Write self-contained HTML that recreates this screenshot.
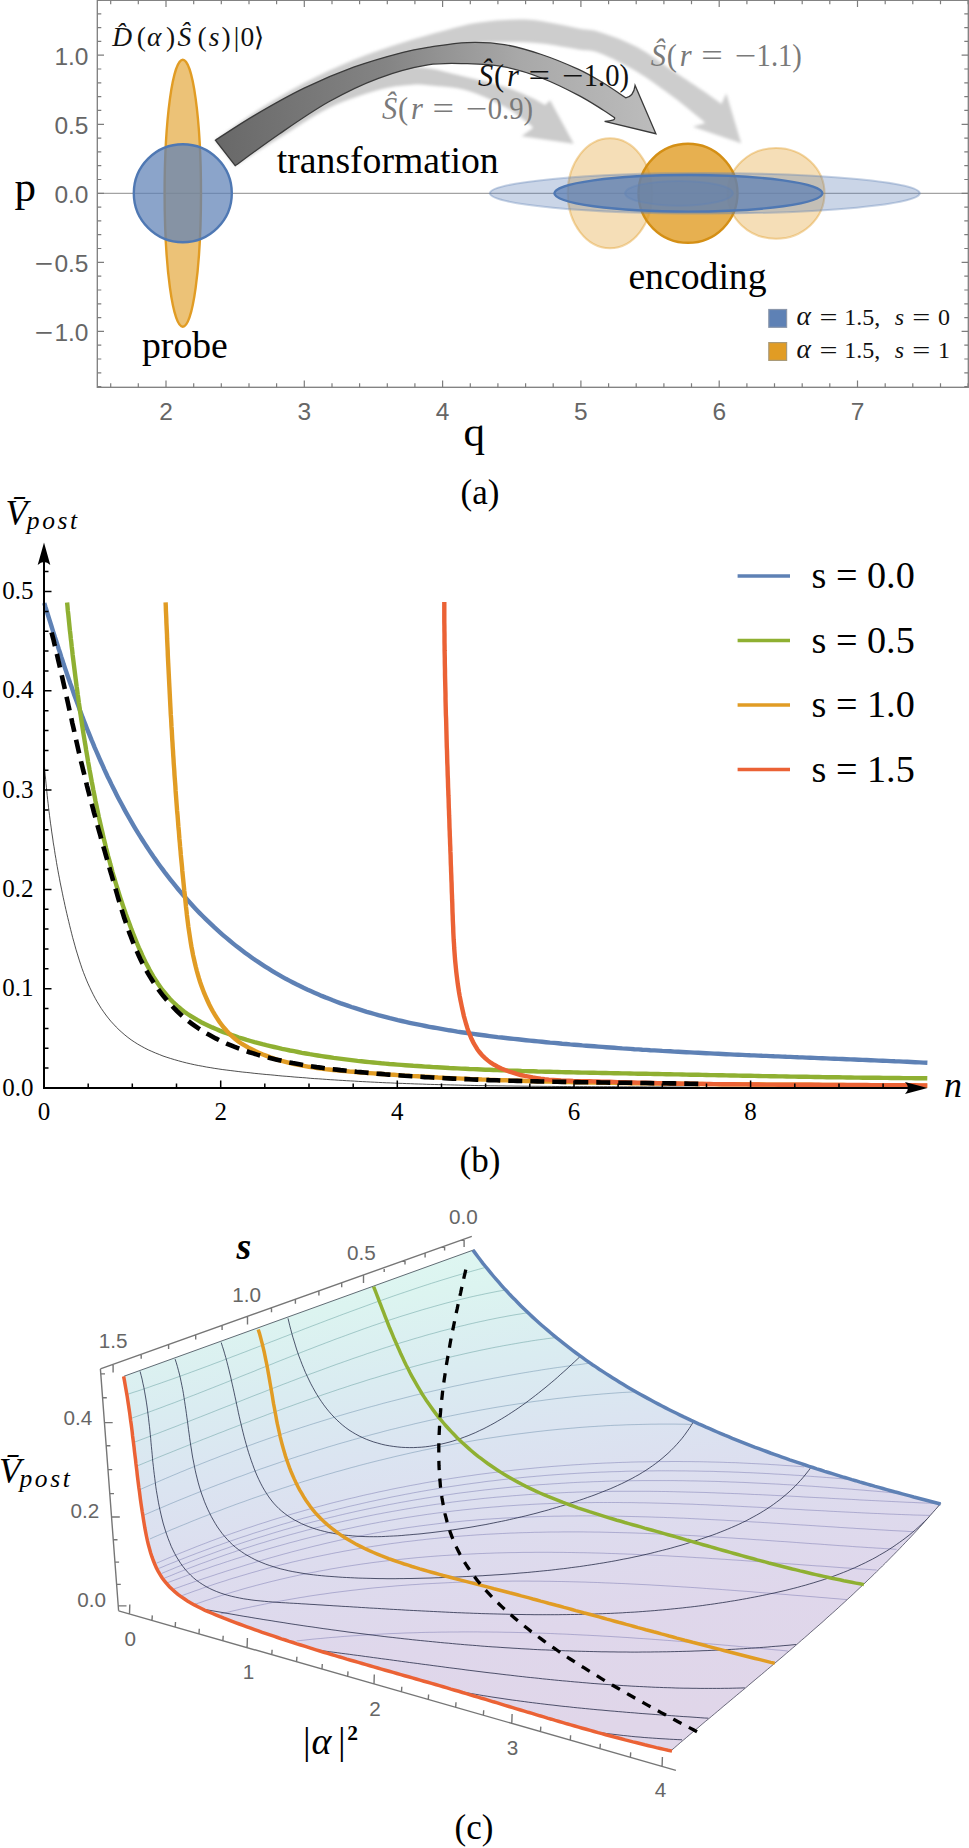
<!DOCTYPE html>
<html><head><meta charset="utf-8"><title>figure</title>
<style>html,body{margin:0;padding:0;background:#fff}svg{display:block}text{white-space:pre}</style>
</head><body>
<svg width="969" height="1848" viewBox="0 0 969 1848">
<rect width="969" height="1848" fill="#fff"/>
<g id="panel_a">
<defs>
<linearGradient id="agrad" gradientUnits="userSpaceOnUse" x1="215" y1="150" x2="655" y2="120">
<stop offset="0" stop-color="#686868"/><stop offset="0.4" stop-color="#848484"/><stop offset="0.7" stop-color="#a8a8a8"/><stop offset="1" stop-color="#bcbcbc"/></linearGradient>
<filter id="blur1" x="-5%" y="-10%" width="110%" height="120%"><feGaussianBlur stdDeviation="1.6"/></filter>
<clipPath id="clipA"><rect x="97.3" y="0.3" width="871.0" height="387.0"/></clipPath>
</defs>
<line x1="97.3" y1="193.3" x2="968.3" y2="193.3" stroke="#a3a3a3" stroke-width="1.2"/>
<ellipse cx="182.8" cy="193.3" rx="18.2" ry="133.5" fill="#E19C24" fill-opacity="0.62" stroke="#E19C24" stroke-width="2.4"/>
<circle cx="182.8" cy="193.3" r="49" fill="#5E81B5" fill-opacity="0.72" stroke="#4f78b3" stroke-width="2.4"/>
<g filter="url(#blur1)">
<path d="M215.4,140.2 C221.9,135.6 239.7,122.0 254.5,112.5 C269.3,103.0 287.6,91.8 304.1,83.0 C320.6,74.2 337.1,66.8 353.6,60.0 C370.1,53.2 387.9,47.4 403.1,42.5 C418.3,37.6 432.3,33.8 445.0,30.5 C457.7,27.2 465.5,24.3 479.5,22.5 C493.5,20.7 512.5,18.8 529.0,19.8 C545.5,20.8 566.8,26.4 578.6,28.5 C590.4,30.6 590.3,29.1 600.0,32.2 C609.7,35.3 624.6,40.4 637.0,47.0 C649.4,53.6 663.1,64.4 674.3,71.8 C685.5,79.2 696.1,86.2 704.0,91.6 C711.9,97.0 718.5,101.9 721.4,104.0 L726.3,93.6 L741.2,143.2 L692.9,126.8 L705.3,123.0 C704.2,122.1 704.2,121.8 699.0,117.6 C693.8,113.4 684.6,105.4 674.3,97.8 C664.0,90.2 649.4,79.2 637.0,71.8 C624.6,64.4 609.7,56.9 600.0,53.2 C590.3,49.5 588.4,51.1 578.6,49.5 C568.9,47.9 553.9,44.8 541.5,43.5 C529.1,42.2 515.9,41.9 504.0,42.0 C492.1,42.1 482.7,42.2 470.0,44.0 C457.3,45.8 443.2,48.7 427.9,53.0 C412.6,57.3 394.9,63.0 378.4,70.0 C361.9,77.0 345.3,85.0 328.8,95.0 C312.3,105.0 294.9,118.2 279.3,130.0 C263.7,141.8 242.5,159.8 235.2,165.7 Z" fill="#cdcdcd" />
<path d="M215.4,140.2 C221.9,136.5 239.7,125.9 254.5,118.0 C269.3,110.1 287.6,100.0 304.1,93.0 C320.6,86.0 337.1,80.2 353.6,76.0 C370.1,71.8 390.4,69.2 403.1,68.0 C415.8,66.8 421.4,67.5 430.0,68.5 C438.6,69.5 442.4,71.3 454.8,74.3 C467.2,77.3 491.8,82.9 504.3,86.7 C516.8,90.5 523.2,94.0 530.0,97.0 C536.8,100.0 542.5,103.7 545.0,105.0 L550.1,100.3 L573.7,143.7 L521.6,136.2 L533.0,128.0 C532.3,127.3 533.8,127.4 529.0,123.8 C524.2,120.2 514.6,112.1 504.3,106.5 C494.0,100.9 479.4,93.9 467.0,90.4 C454.6,86.9 439.5,86.3 430.0,85.4 C420.5,84.5 418.6,84.2 410.0,85.0 C401.4,85.8 391.9,86.2 378.4,90.0 C364.9,93.8 345.3,100.0 328.8,108.0 C312.3,116.0 294.9,128.4 279.3,138.0 C263.7,147.6 242.5,161.1 235.2,165.7 Z" fill="#cbcbcb" />
</g>
<path d="M215.4,140.2 C221.9,136.1 239.7,124.1 254.5,115.4 C269.3,106.7 287.6,96.2 304.1,88.2 C320.6,80.2 337.1,73.2 353.6,67.2 C370.1,61.2 390.4,55.6 403.1,52.3 C415.8,48.9 419.3,48.7 430.0,47.1 C440.7,45.5 454.8,43.0 467.2,42.6 C479.6,42.2 491.9,42.6 504.3,44.6 C516.7,46.6 529.1,50.4 541.5,54.5 C553.9,58.6 568.3,64.7 578.6,69.4 C588.9,74.2 595.5,78.3 603.4,83.0 C611.2,87.7 622.0,95.3 625.7,97.8 Q633.6,96.6 635.1,85.4 L655.9,133.7 L604.6,121.4 Q615.8,120.9 614.5,117.6 C612.6,116.4 609.4,113.9 603.4,110.2 C597.4,106.5 588.9,100.8 578.6,95.4 C568.3,90.0 553.9,82.8 541.5,78.0 C529.1,73.2 516.7,69.3 504.3,66.9 C491.9,64.5 479.9,64.0 467.2,63.7 C454.5,63.4 442.7,62.5 427.9,64.9 C413.1,67.3 394.9,72.2 378.4,78.3 C361.9,84.4 345.3,92.5 328.8,101.8 C312.3,111.1 294.9,123.3 279.3,134.0 C263.7,144.7 242.5,160.4 235.2,165.7 Z" fill="url(#agrad)" stroke="#3a3a3a" stroke-width="1.3" stroke-linejoin="miter"/>
<ellipse cx="610" cy="193.3" rx="42.3" ry="55" fill="#E19C24" fill-opacity="0.33" stroke="#E19C24" stroke-opacity="0.4" stroke-width="2"/>
<ellipse cx="776" cy="193.3" rx="48.5" ry="45.4" fill="#E19C24" fill-opacity="0.33" stroke="#E19C24" stroke-opacity="0.4" stroke-width="2"/>
<circle cx="688" cy="193.3" r="49.5" fill="#E19C24" fill-opacity="0.8" stroke="#d48f15" stroke-width="2.4"/>
<ellipse cx="704.8" cy="193.3" rx="215" ry="20.3" fill="#5E81B5" fill-opacity="0.33" stroke="#5E81B5" stroke-opacity="0.35" stroke-width="2"/>
<ellipse cx="679" cy="193.3" rx="54" ry="12.4" fill="#5E81B5" fill-opacity="0.3" stroke="#5E81B5" stroke-opacity="0.35" stroke-width="2"/>
<ellipse cx="688.4" cy="193.3" rx="134" ry="18.3" fill="#5E81B5" fill-opacity="0.72" stroke="#4f78b3" stroke-width="2.4"/>
<path d="M97.3,386.6 h4.0 M968.3,386.6 h-4.0 M97.3,372.8 h4.0 M968.3,372.8 h-4.0 M97.3,359.0 h4.0 M968.3,359.0 h-4.0 M97.3,345.2 h4.0 M968.3,345.2 h-4.0 M97.3,331.4 h6.7 M968.3,331.4 h-6.7 M97.3,317.6 h4.0 M968.3,317.6 h-4.0 M97.3,303.8 h4.0 M968.3,303.8 h-4.0 M97.3,290.0 h4.0 M968.3,290.0 h-4.0 M97.3,276.2 h4.0 M968.3,276.2 h-4.0 M97.3,262.4 h6.7 M968.3,262.4 h-6.7 M97.3,248.5 h4.0 M968.3,248.5 h-4.0 M97.3,234.7 h4.0 M968.3,234.7 h-4.0 M97.3,220.9 h4.0 M968.3,220.9 h-4.0 M97.3,207.1 h4.0 M968.3,207.1 h-4.0 M97.3,193.3 h6.7 M968.3,193.3 h-6.7 M97.3,179.5 h4.0 M968.3,179.5 h-4.0 M97.3,165.7 h4.0 M968.3,165.7 h-4.0 M97.3,151.9 h4.0 M968.3,151.9 h-4.0 M97.3,138.1 h4.0 M968.3,138.1 h-4.0 M97.3,124.3 h6.7 M968.3,124.3 h-6.7 M97.3,110.4 h4.0 M968.3,110.4 h-4.0 M97.3,96.6 h4.0 M968.3,96.6 h-4.0 M97.3,82.8 h4.0 M968.3,82.8 h-4.0 M97.3,69.0 h4.0 M968.3,69.0 h-4.0 M97.3,55.2 h6.7 M968.3,55.2 h-6.7 M97.3,41.4 h4.0 M968.3,41.4 h-4.0 M97.3,27.6 h4.0 M968.3,27.6 h-4.0 M97.3,13.8 h4.0 M968.3,13.8 h-4.0 M97.3,-0.0 h4.0 M968.3,-0.0 h-4.0 M110.7,387.3 v-4.0 M110.7,0.3 v4.0 M138.3,387.3 v-4.0 M138.3,0.3 v4.0 M166.0,387.3 v-6.7 M166.0,0.3 v6.7 M193.7,387.3 v-4.0 M193.7,0.3 v4.0 M221.3,387.3 v-4.0 M221.3,0.3 v4.0 M249.0,387.3 v-4.0 M249.0,0.3 v4.0 M276.6,387.3 v-4.0 M276.6,0.3 v4.0 M304.3,387.3 v-6.7 M304.3,0.3 v6.7 M332.0,387.3 v-4.0 M332.0,0.3 v4.0 M359.6,387.3 v-4.0 M359.6,0.3 v4.0 M387.3,387.3 v-4.0 M387.3,0.3 v4.0 M414.9,387.3 v-4.0 M414.9,0.3 v4.0 M442.6,387.3 v-6.7 M442.6,0.3 v6.7 M470.3,387.3 v-4.0 M470.3,0.3 v4.0 M497.9,387.3 v-4.0 M497.9,0.3 v4.0 M525.6,387.3 v-4.0 M525.6,0.3 v4.0 M553.2,387.3 v-4.0 M553.2,0.3 v4.0 M580.9,387.3 v-6.7 M580.9,0.3 v6.7 M608.6,387.3 v-4.0 M608.6,0.3 v4.0 M636.2,387.3 v-4.0 M636.2,0.3 v4.0 M663.9,387.3 v-4.0 M663.9,0.3 v4.0 M691.5,387.3 v-4.0 M691.5,0.3 v4.0 M719.2,387.3 v-6.7 M719.2,0.3 v6.7 M746.9,387.3 v-4.0 M746.9,0.3 v4.0 M774.5,387.3 v-4.0 M774.5,0.3 v4.0 M802.2,387.3 v-4.0 M802.2,0.3 v4.0 M829.8,387.3 v-4.0 M829.8,0.3 v4.0 M857.5,387.3 v-6.7 M857.5,0.3 v6.7 M885.2,387.3 v-4.0 M885.2,0.3 v4.0 M912.8,387.3 v-4.0 M912.8,0.3 v4.0 M940.5,387.3 v-4.0 M940.5,0.3 v4.0 M968.1,387.3 v-4.0 M968.1,0.3 v4.0" stroke="#7d7d7d" stroke-width="1.2" fill="none"/>
<rect x="97.3" y="0.3" width="871.0" height="387.0" fill="none" stroke="#7d7d7d" stroke-width="1.3"/>
<text x="88.5" y="64.8" text-anchor="end" font-family="Liberation Sans, sans-serif" font-size="24.5" fill="#666">1.0</text>
<text x="88.5" y="133.9" text-anchor="end" font-family="Liberation Sans, sans-serif" font-size="24.5" fill="#666">0.5</text>
<text x="88.5" y="202.9" text-anchor="end" font-family="Liberation Sans, sans-serif" font-size="24.5" fill="#666">0.0</text>
<text x="88.5" y="272.0" text-anchor="end" font-family="Liberation Sans, sans-serif" font-size="24.5" fill="#666">0.5</text>
<text x="34.8" y="272.0" font-family="Liberation Sans, sans-serif" font-size="24.5" fill="#666" textLength="18.4" lengthAdjust="spacingAndGlyphs">−</text>
<text x="88.5" y="341.0" text-anchor="end" font-family="Liberation Sans, sans-serif" font-size="24.5" fill="#666">1.0</text>
<text x="34.8" y="341.0" font-family="Liberation Sans, sans-serif" font-size="24.5" fill="#666" textLength="18.4" lengthAdjust="spacingAndGlyphs">−</text>
<text x="166.0" y="420" text-anchor="middle" font-family="Liberation Sans, sans-serif" font-size="24.5" fill="#666">2</text>
<text x="304.3" y="420" text-anchor="middle" font-family="Liberation Sans, sans-serif" font-size="24.5" fill="#666">3</text>
<text x="442.6" y="420" text-anchor="middle" font-family="Liberation Sans, sans-serif" font-size="24.5" fill="#666">4</text>
<text x="580.9" y="420" text-anchor="middle" font-family="Liberation Sans, sans-serif" font-size="24.5" fill="#666">5</text>
<text x="719.2" y="420" text-anchor="middle" font-family="Liberation Sans, sans-serif" font-size="24.5" fill="#666">6</text>
<text x="857.5" y="420" text-anchor="middle" font-family="Liberation Sans, sans-serif" font-size="24.5" fill="#666">7</text>
<text x="14.5" y="201" font-family="Liberation Serif, serif" font-size="43">p</text>
<text x="463.5" y="445.5" font-family="Liberation Serif, serif" font-size="43">q</text>
<text x="480" y="503.5" text-anchor="middle" font-family="Liberation Serif, serif" font-size="35">(a)</text>
<text x="276.8" y="173.3" font-family="Liberation Serif, serif" font-size="37.7">transformation</text>
<text x="142" y="357.5" font-family="Liberation Serif, serif" font-size="37.7">probe</text>
<text x="628.4" y="288.5" font-family="Liberation Serif, serif" font-size="37.7">encoding</text>
<text x="381.9" y="118.5" font-family="Liberation Serif, serif" font-size="30.5" fill="#7a7a7a"><tspan font-style="italic">Ŝ</tspan></text><text x="397.9" y="118.5" font-family="Liberation Serif, serif" font-size="30.5" fill="#7a7a7a">(</text><text x="410.9" y="118.5" font-family="Liberation Serif, serif" font-size="30.5" fill="#7a7a7a" font-style="italic">r</text><text x="432.4" y="118.5" font-family="Liberation Serif, serif" font-size="30.5" fill="#7a7a7a" textLength="21.5" lengthAdjust="spacingAndGlyphs">=</text><text x="465.6" y="118.5" font-family="Liberation Serif, serif" font-size="30.5" fill="#7a7a7a" textLength="21.5" lengthAdjust="spacingAndGlyphs">−</text><text x="487.7" y="118.5" font-family="Liberation Serif, serif" font-size="30.5" fill="#7a7a7a" textLength="45.3" lengthAdjust="spacingAndGlyphs">0.9)</text>
<text x="650.8" y="65.6" font-family="Liberation Serif, serif" font-size="30.5" fill="#7a7a7a"><tspan font-style="italic">Ŝ</tspan></text><text x="666.8" y="65.6" font-family="Liberation Serif, serif" font-size="30.5" fill="#7a7a7a">(</text><text x="679.8" y="65.6" font-family="Liberation Serif, serif" font-size="30.5" fill="#7a7a7a" font-style="italic">r</text><text x="701.3" y="65.6" font-family="Liberation Serif, serif" font-size="30.5" fill="#7a7a7a" textLength="21.5" lengthAdjust="spacingAndGlyphs">=</text><text x="734.5" y="65.6" font-family="Liberation Serif, serif" font-size="30.5" fill="#7a7a7a" textLength="21.5" lengthAdjust="spacingAndGlyphs">−</text><text x="756.6" y="65.6" font-family="Liberation Serif, serif" font-size="30.5" fill="#7a7a7a" textLength="45.3" lengthAdjust="spacingAndGlyphs">1.1)</text>
<text x="478.0" y="85.6" font-family="Liberation Serif, serif" font-size="30.5" fill="#111"><tspan font-style="italic">Ŝ</tspan></text><text x="494.0" y="85.6" font-family="Liberation Serif, serif" font-size="30.5" fill="#111">(</text><text x="507.0" y="85.6" font-family="Liberation Serif, serif" font-size="30.5" fill="#111" font-style="italic">r</text><text x="528.5" y="85.6" font-family="Liberation Serif, serif" font-size="30.5" fill="#111" textLength="21.5" lengthAdjust="spacingAndGlyphs">=</text><text x="561.7" y="85.6" font-family="Liberation Serif, serif" font-size="30.5" fill="#111" textLength="21.5" lengthAdjust="spacingAndGlyphs">−</text><text x="583.8" y="85.6" font-family="Liberation Serif, serif" font-size="30.5" fill="#111" textLength="45.3" lengthAdjust="spacingAndGlyphs">1.0)</text>
<text x="112.3" y="46.3" font-family="Liberation Serif, serif" font-size="27.5" fill="#111" font-style="italic">D̂</text>
<text x="136.8" y="46.3" font-family="Liberation Serif, serif" font-size="27.5" fill="#111">(</text>
<text x="147.0" y="46.3" font-family="Liberation Serif, serif" font-size="27.5" fill="#111" font-style="italic">α</text>
<text x="166.1" y="46.3" font-family="Liberation Serif, serif" font-size="27.5" fill="#111">)</text>
<text x="177.5" y="46.3" font-family="Liberation Serif, serif" font-size="27.5" fill="#111" font-style="italic">Ŝ</text>
<text x="197.5" y="46.3" font-family="Liberation Serif, serif" font-size="27.5" fill="#111">(</text>
<text x="208.8" y="46.3" font-family="Liberation Serif, serif" font-size="27.5" fill="#111" font-style="italic">s</text>
<text x="221.4" y="46.3" font-family="Liberation Serif, serif" font-size="27.5" fill="#111">)</text>
<text x="233.7" y="46.3" font-family="Liberation Serif, serif" font-size="27.5" fill="#111">|</text>
<text x="240.5" y="46.3" font-family="Liberation Serif, serif" font-size="27.5" fill="#111">0</text>
<text x="254.3" y="45.8" font-family="DejaVu Sans, sans-serif" font-weight="200" font-size="26" fill="#111">⟩</text>
<rect x="768.8" y="309.5" width="17.8" height="17.8" fill="#5E81B5" stroke="#8b97ab" stroke-width="1.2"/>
<rect x="768.8" y="342.6" width="17.8" height="17.8" fill="#E19C24" stroke="#a99a78" stroke-width="1.2"/>
<text x="796.5" y="325.2" font-family="Liberation Serif, serif" font-size="27.5" fill="#111" font-style="italic">α</text>
<text x="819.4" y="325.2" font-family="Liberation Serif, serif" font-size="24" fill="#111" textLength="18" lengthAdjust="spacingAndGlyphs">=</text>
<text x="844.3" y="325.2" font-family="Liberation Serif, serif" font-size="24" fill="#111">1.5,</text>
<text x="894.8" y="325.2" font-family="Liberation Serif, serif" font-size="24" fill="#111" font-style="italic">s</text>
<text x="912.3" y="325.2" font-family="Liberation Serif, serif" font-size="24" fill="#111" textLength="18" lengthAdjust="spacingAndGlyphs">=</text>
<text x="937.9" y="325.2" font-family="Liberation Serif, serif" font-size="24" fill="#111">0</text>
<text x="796.5" y="358.2" font-family="Liberation Serif, serif" font-size="27.5" fill="#111" font-style="italic">α</text>
<text x="819.4" y="358.2" font-family="Liberation Serif, serif" font-size="24" fill="#111" textLength="18" lengthAdjust="spacingAndGlyphs">=</text>
<text x="844.3" y="358.2" font-family="Liberation Serif, serif" font-size="24" fill="#111">1.5,</text>
<text x="894.8" y="358.2" font-family="Liberation Serif, serif" font-size="24" fill="#111" font-style="italic">s</text>
<text x="912.3" y="358.2" font-family="Liberation Serif, serif" font-size="24" fill="#111" textLength="18" lengthAdjust="spacingAndGlyphs">=</text>
<text x="937.9" y="358.2" font-family="Liberation Serif, serif" font-size="24" fill="#111">1</text>
</g>
<g id="panel_b">
<path d="M44.1,762.8 L44.5,766.9 L44.8,771.0 L45.2,775.1 L45.6,779.2 L46.0,783.2 L46.4,787.3 L46.8,791.3 L47.2,795.3 L47.6,799.3 L48.1,803.3 L48.5,807.3 L49.0,811.3 L49.5,815.3 L50.0,819.2 L50.5,823.2 L51.1,827.1 L51.6,831.1 L52.2,835.0 L52.8,839.0 L53.3,842.9 L54.0,846.8 L54.6,850.7 L55.2,854.7 L55.9,858.6 L56.5,862.5 L57.2,866.4 L57.9,870.3 L58.6,874.2 L59.4,878.2 L60.1,882.1 L60.9,886.0 L61.7,889.9 L62.5,893.8 L63.3,897.8 L64.2,901.7 L65.0,905.6 L65.9,909.6 L66.8,913.5 L67.7,917.4 L68.7,921.4 L69.6,925.3 L70.6,929.3 L71.6,933.3 L72.6,937.3 L73.7,941.2 L74.8,945.2 L75.9,949.2 L77.1,953.1 L78.3,957.0 L79.5,960.9 L80.8,964.8 L82.1,968.7 L83.5,972.5 L85.0,976.3 L86.5,980.1 L88.1,983.8 L89.8,987.5 L91.5,991.1 L93.3,994.7 L95.2,998.3 L97.1,1001.7 L99.2,1005.1 L101.3,1008.5 L103.6,1011.8 L105.9,1015.0 L108.3,1018.1 L110.8,1021.2 L113.5,1024.1 L116.2,1027.0 L119.0,1029.8 L121.9,1032.4 L124.9,1035.0 L127.9,1037.4 L131.1,1039.8 L134.4,1042.0 L137.7,1044.1 L141.2,1046.1 L144.7,1048.0 L148.2,1049.8 L151.8,1051.4 L155.5,1053.0 L159.3,1054.5 L163.0,1056.0 L166.9,1057.3 L170.7,1058.5 L174.6,1059.7 L178.5,1060.8 L182.5,1061.9 L186.4,1062.9 L190.4,1063.8 L194.3,1064.7 L198.3,1065.5 L202.3,1066.2 L206.3,1067.0 L210.2,1067.6 L214.2,1068.3 L218.2,1068.9 L222.2,1069.5 L226.2,1070.0 L230.2,1070.5 L234.2,1071.0 L238.2,1071.5 L242.2,1072.0 L246.2,1072.4 L250.2,1072.8 L254.2,1073.3 L258.2,1073.7 L262.2,1074.1 L266.2,1074.5 L270.2,1074.8 L274.2,1075.2 L278.2,1075.6 L282.2,1076.0 L286.2,1076.3 L290.2,1076.6 L294.2,1077.0 L298.2,1077.3 L302.3,1077.6 L306.3,1077.9 L310.3,1078.3 L314.3,1078.6 L318.3,1078.8 L322.3,1079.1 L326.3,1079.4 L330.3,1079.7 L334.3,1079.9 L338.3,1080.2 L342.3,1080.4 L346.4,1080.7 L350.4,1080.9 L354.4,1081.1 L358.4,1081.4 L362.4,1081.6 L366.4,1081.8 L370.4,1082.0 L374.4,1082.2 L378.4,1082.4 L382.5,1082.6 L386.5,1082.8 L390.5,1082.9 L394.5,1083.1 L398.5,1083.3 L402.5,1083.4 L406.5,1083.6 L410.6,1083.7 L414.6,1083.9 L418.6,1084.0 L422.6,1084.1 L426.6,1084.3 L430.6,1084.4 L434.6,1084.5 L438.7,1084.6 L442.7,1084.7 L446.7,1084.8 L450.7,1084.9 L454.7,1085.0 L458.7,1085.1 L462.8,1085.2 L466.8,1085.3 L470.8,1085.4 L474.8,1085.5 L478.8,1085.6 L482.9,1085.6 L486.9,1085.7 L490.9,1085.8 L494.9,1085.8 L498.9,1085.9 L502.9,1085.9 L507.0,1086.0 L511.0,1086.0 L515.0,1086.1 L519.0,1086.1 L523.0,1086.2 L527.1,1086.2 L531.1,1086.3 L535.1,1086.3 L539.1,1086.3 L543.1,1086.4 L547.2,1086.4 L551.2,1086.4 L555.2,1086.5 L559.2,1086.5 L563.2,1086.5 L567.3,1086.5 L571.3,1086.6 L575.3,1086.6 L579.3,1086.6 L583.4,1086.6 L587.4,1086.6 L591.4,1086.7 L595.4,1086.7 L599.4,1086.7 L603.5,1086.7 L607.5,1086.7 L611.5,1086.7 L615.5,1086.7 L619.6,1086.8 L623.6,1086.8 L627.6,1086.8 L631.6,1086.8 L635.6,1086.8 L639.7,1086.8 L643.7,1086.8 L647.7,1086.9 L651.7,1086.9 L655.8,1086.9 L659.8,1086.9 L663.8,1086.9 L667.8,1087.0 L671.8,1087.0 L675.9,1087.0 L679.9,1087.0 L683.9,1087.1 L687.9,1087.1 L692.0,1087.1 L696.0,1087.1 L700.0,1087.2" fill="none" stroke="#222" stroke-width="0.8"/>
<path d="M44.3,603.0 L45.4,606.9 L46.6,610.7 L47.8,614.5 L49.0,618.3 L50.2,622.2 L51.4,626.0 L52.6,629.8 L53.8,633.6 L55.0,637.5 L56.3,641.3 L57.5,645.1 L58.7,649.0 L60.0,652.8 L61.2,656.6 L62.5,660.4 L63.7,664.3 L65.0,668.1 L66.3,671.9 L67.6,675.7 L68.9,679.5 L70.2,683.3 L71.6,687.1 L72.9,690.9 L74.2,694.7 L75.6,698.5 L77.0,702.3 L78.4,706.1 L79.8,709.9 L81.2,713.6 L82.6,717.4 L84.1,721.2 L85.5,724.9 L87.0,728.7 L88.5,732.4 L90.0,736.1 L91.5,739.9 L93.1,743.6 L94.6,747.3 L96.2,751.0 L97.8,754.7 L99.4,758.4 L101.0,762.0 L102.7,765.7 L104.3,769.4 L106.0,773.0 L107.7,776.7 L109.5,780.3 L111.2,783.9 L113.0,787.5 L114.8,791.1 L116.6,794.7 L118.4,798.2 L120.3,801.8 L122.2,805.3 L124.1,808.9 L126.0,812.4 L128.0,815.9 L130.0,819.4 L132.0,822.9 L134.0,826.3 L136.1,829.8 L138.1,833.2 L140.3,836.6 L142.4,840.0 L144.6,843.4 L146.8,846.8 L149.0,850.1 L151.3,853.5 L153.5,856.8 L155.9,860.1 L158.2,863.4 L160.6,866.7 L163.0,869.9 L165.4,873.2 L167.9,876.4 L170.4,879.6 L172.9,882.7 L175.5,885.9 L178.0,889.0 L180.6,892.1 L183.3,895.2 L186.0,898.2 L188.7,901.2 L191.4,904.2 L194.1,907.2 L196.9,910.2 L199.7,913.1 L202.6,916.0 L205.5,918.8 L208.4,921.6 L211.3,924.4 L214.2,927.2 L217.2,929.9 L220.2,932.6 L223.3,935.3 L226.4,937.9 L229.5,940.5 L232.6,943.1 L235.7,945.6 L238.9,948.1 L242.1,950.5 L245.3,952.9 L248.6,955.3 L251.9,957.7 L255.2,960.0 L258.5,962.2 L261.8,964.4 L265.2,966.6 L268.6,968.7 L272.0,970.8 L275.4,972.9 L278.9,974.9 L282.3,976.8 L285.8,978.8 L289.3,980.6 L292.9,982.5 L296.4,984.3 L300.0,986.0 L303.5,987.8 L307.1,989.5 L310.7,991.1 L314.4,992.7 L318.0,994.3 L321.7,995.9 L325.4,997.4 L329.1,998.8 L332.8,1000.3 L336.5,1001.7 L340.2,1003.1 L344.0,1004.4 L347.7,1005.7 L351.5,1007.0 L355.3,1008.2 L359.1,1009.4 L362.9,1010.6 L366.7,1011.8 L370.6,1012.9 L374.4,1014.0 L378.3,1015.1 L382.2,1016.1 L386.1,1017.2 L389.9,1018.2 L393.9,1019.1 L397.8,1020.1 L401.7,1021.0 L405.6,1021.9 L409.6,1022.8 L413.5,1023.6 L417.5,1024.4 L421.4,1025.2 L425.4,1026.0 L429.4,1026.8 L433.3,1027.5 L437.3,1028.2 L441.3,1028.9 L445.3,1029.6 L449.3,1030.3 L453.3,1030.9 L457.3,1031.6 L461.4,1032.2 L465.4,1032.8 L469.4,1033.4 L473.4,1033.9 L477.5,1034.5 L481.5,1035.0 L485.5,1035.5 L489.6,1036.1 L493.6,1036.6 L497.6,1037.1 L501.7,1037.5 L505.7,1038.0 L509.8,1038.5 L513.8,1038.9 L517.8,1039.3 L521.9,1039.8 L525.9,1040.2 L530.0,1040.6 L534.0,1041.0 L538.0,1041.4 L542.1,1041.8 L546.1,1042.2 L550.1,1042.6 L554.1,1042.9 L558.2,1043.3 L562.2,1043.7 L566.2,1044.0 L570.2,1044.4 L574.2,1044.7 L578.3,1045.0 L582.3,1045.4 L586.3,1045.7 L590.3,1046.0 L594.3,1046.3 L598.3,1046.6 L602.3,1046.9 L606.3,1047.2 L610.3,1047.5 L614.3,1047.8 L618.3,1048.1 L622.3,1048.4 L626.4,1048.6 L630.4,1048.9 L634.4,1049.2 L638.4,1049.4 L642.4,1049.7 L646.4,1049.9 L650.3,1050.2 L654.3,1050.4 L658.3,1050.6 L662.3,1050.9 L666.3,1051.1 L670.3,1051.3 L674.3,1051.6 L678.3,1051.8 L682.3,1052.0 L686.3,1052.2 L690.3,1052.4 L694.3,1052.6 L698.3,1052.8 L702.3,1053.0 L706.3,1053.2 L710.3,1053.4 L714.3,1053.6 L718.3,1053.8 L722.3,1054.0 L726.3,1054.2 L730.3,1054.4 L734.2,1054.6 L738.2,1054.7 L742.2,1054.9 L746.2,1055.1 L750.2,1055.3 L754.2,1055.4 L758.2,1055.6 L762.2,1055.8 L766.2,1055.9 L770.2,1056.1 L774.2,1056.3 L778.2,1056.4 L782.2,1056.6 L786.3,1056.8 L790.3,1056.9 L794.3,1057.1 L798.3,1057.3 L802.3,1057.4 L806.3,1057.6 L810.3,1057.7 L814.3,1057.9 L818.3,1058.1 L822.4,1058.2 L826.4,1058.4 L830.4,1058.6 L834.4,1058.7 L838.4,1058.9 L842.5,1059.0 L846.5,1059.2 L850.5,1059.4 L854.5,1059.5 L858.6,1059.7 L862.6,1059.9 L866.6,1060.0 L870.7,1060.2 L874.7,1060.4 L878.8,1060.6 L882.8,1060.7 L886.9,1060.9 L890.9,1061.1 L895.0,1061.3 L899.0,1061.4 L903.1,1061.6 L907.1,1061.8 L911.2,1062.0 L915.2,1062.2 L919.3,1062.4 L923.4,1062.6 L927.4,1062.8" fill="none" stroke="#5E81B5" stroke-width="4.4"/>
<path d="M67.1,602.5 L67.5,606.5 L67.8,610.5 L68.3,614.5 L68.7,618.5 L69.1,622.5 L69.5,626.5 L69.9,630.5 L70.4,634.5 L70.8,638.5 L71.3,642.5 L71.7,646.5 L72.2,650.4 L72.6,654.4 L73.1,658.4 L73.6,662.4 L74.1,666.4 L74.6,670.4 L75.1,674.4 L75.6,678.4 L76.1,682.3 L76.6,686.3 L77.2,690.3 L77.7,694.3 L78.3,698.3 L78.8,702.3 L79.4,706.2 L79.9,710.2 L80.5,714.2 L81.1,718.2 L81.7,722.1 L82.3,726.1 L82.9,730.1 L83.5,734.0 L84.2,738.0 L84.8,742.0 L85.5,745.9 L86.1,749.9 L86.8,753.8 L87.5,757.8 L88.1,761.8 L88.8,765.7 L89.5,769.7 L90.3,773.6 L91.0,777.6 L91.7,781.5 L92.5,785.4 L93.2,789.4 L94.0,793.3 L94.8,797.3 L95.5,801.2 L96.4,805.1 L97.2,809.1 L98.0,813.0 L98.8,816.9 L99.7,820.8 L100.6,824.7 L101.5,828.7 L102.4,832.6 L103.3,836.5 L104.2,840.4 L105.2,844.3 L106.1,848.2 L107.1,852.1 L108.1,856.0 L109.2,859.8 L110.2,863.7 L111.3,867.6 L112.3,871.5 L113.4,875.3 L114.6,879.2 L115.7,883.0 L116.9,886.9 L118.1,890.7 L119.3,894.6 L120.5,898.4 L121.8,902.3 L123.1,906.1 L124.4,909.9 L125.7,913.7 L127.1,917.5 L128.5,921.3 L129.9,925.1 L131.3,928.9 L132.8,932.7 L134.3,936.5 L135.8,940.3 L137.3,944.0 L138.9,947.8 L140.6,951.5 L142.2,955.2 L144.0,958.9 L145.7,962.5 L147.6,966.1 L149.4,969.6 L151.4,973.1 L153.4,976.6 L155.5,979.9 L157.7,983.3 L159.9,986.5 L162.2,989.7 L164.7,992.7 L167.2,995.7 L169.8,998.7 L172.5,1001.5 L175.3,1004.2 L178.2,1006.8 L181.2,1009.3 L184.3,1011.7 L187.6,1014.0 L190.9,1016.1 L194.3,1018.2 L197.7,1020.2 L201.3,1022.2 L204.9,1024.0 L208.5,1025.7 L212.2,1027.4 L216.0,1029.0 L219.7,1030.6 L223.5,1032.1 L227.3,1033.5 L231.2,1034.9 L235.0,1036.2 L238.9,1037.5 L242.8,1038.7 L246.7,1039.9 L250.6,1041.0 L254.5,1042.1 L258.5,1043.1 L262.4,1044.2 L266.3,1045.2 L270.3,1046.1 L274.2,1047.0 L278.2,1047.9 L282.1,1048.8 L286.1,1049.6 L290.0,1050.5 L294.0,1051.2 L298.0,1052.0 L301.9,1052.8 L305.9,1053.5 L309.8,1054.2 L313.8,1054.8 L317.8,1055.5 L321.7,1056.1 L325.7,1056.7 L329.7,1057.3 L333.6,1057.9 L337.6,1058.4 L341.6,1058.9 L345.5,1059.4 L349.5,1059.9 L353.5,1060.4 L357.5,1060.9 L361.4,1061.3 L365.4,1061.7 L369.4,1062.1 L373.4,1062.5 L377.4,1062.9 L381.3,1063.3 L385.3,1063.6 L389.3,1064.0 L393.3,1064.3 L397.3,1064.6 L401.3,1064.9 L405.3,1065.2 L409.3,1065.5 L413.3,1065.8 L417.2,1066.0 L421.2,1066.3 L425.2,1066.6 L429.2,1066.8 L433.2,1067.1 L437.2,1067.3 L441.2,1067.5 L445.2,1067.7 L449.3,1068.0 L453.3,1068.2 L457.3,1068.4 L461.3,1068.6 L465.3,1068.8 L469.3,1069.0 L473.3,1069.1 L477.3,1069.3 L481.3,1069.5 L485.3,1069.7 L489.4,1069.8 L493.4,1070.0 L497.4,1070.1 L501.4,1070.3 L505.4,1070.4 L509.4,1070.6 L513.4,1070.7 L517.5,1070.8 L521.5,1071.0 L525.5,1071.1 L529.5,1071.2 L533.5,1071.3 L537.6,1071.5 L541.6,1071.6 L545.6,1071.7 L549.6,1071.8 L553.7,1071.9 L557.7,1072.0 L561.7,1072.1 L565.7,1072.2 L569.7,1072.3 L573.8,1072.4 L577.8,1072.5 L581.8,1072.6 L585.8,1072.6 L589.9,1072.7 L593.9,1072.8 L597.9,1072.9 L601.9,1073.0 L606.0,1073.0 L610.0,1073.1 L614.0,1073.2 L618.0,1073.3 L622.0,1073.4 L626.1,1073.4 L630.1,1073.5 L634.1,1073.6 L638.1,1073.7 L642.2,1073.7 L646.2,1073.8 L650.2,1073.9 L654.2,1074.0 L658.2,1074.0 L662.3,1074.1 L666.3,1074.2 L670.3,1074.3 L674.3,1074.4 L678.3,1074.4 L682.3,1074.5 L686.4,1074.6 L690.4,1074.7 L694.4,1074.7 L698.4,1074.8 L702.4,1074.9 L706.4,1075.0 L710.4,1075.1 L714.5,1075.1 L718.5,1075.2 L722.5,1075.3 L726.5,1075.4 L730.5,1075.5 L734.5,1075.5 L738.5,1075.6 L742.6,1075.7 L746.6,1075.8 L750.6,1075.8 L754.6,1075.9 L758.6,1076.0 L762.6,1076.1 L766.6,1076.1 L770.6,1076.2 L774.7,1076.3 L778.7,1076.4 L782.7,1076.4 L786.7,1076.5 L790.7,1076.6 L794.7,1076.6 L798.7,1076.7 L802.7,1076.8 L806.8,1076.8 L810.8,1076.9 L814.8,1077.0 L818.8,1077.0 L822.8,1077.1 L826.8,1077.2 L830.8,1077.2 L834.9,1077.3 L838.9,1077.3 L842.9,1077.4 L846.9,1077.5 L850.9,1077.5 L854.9,1077.6 L859.0,1077.6 L863.0,1077.7 L867.0,1077.7 L871.0,1077.8 L875.0,1077.8 L879.1,1077.8 L883.1,1077.9 L887.1,1077.9 L891.1,1078.0 L895.1,1078.0 L899.2,1078.0 L903.2,1078.1 L907.2,1078.1 L911.2,1078.1 L915.3,1078.2 L919.3,1078.2 L923.3,1078.2 L927.3,1078.3" fill="none" stroke="#8FB032" stroke-width="4.4"/>
<path d="M165.6,602.4 L165.8,606.4 L165.9,610.5 L166.1,614.5 L166.3,618.6 L166.4,622.6 L166.6,626.6 L166.8,630.7 L167.0,634.7 L167.1,638.7 L167.3,642.7 L167.5,646.8 L167.7,650.8 L167.8,654.8 L168.0,658.8 L168.2,662.8 L168.4,666.8 L168.6,670.9 L168.8,674.9 L169.0,678.9 L169.2,682.9 L169.4,686.9 L169.6,690.9 L169.8,694.9 L170.0,698.9 L170.2,702.9 L170.4,706.9 L170.6,710.9 L170.8,714.9 L171.1,718.9 L171.3,722.9 L171.5,726.9 L171.8,730.9 L172.0,734.9 L172.2,738.8 L172.5,742.8 L172.7,746.8 L173.0,750.8 L173.2,754.8 L173.5,758.8 L173.7,762.8 L174.0,766.8 L174.3,770.8 L174.5,774.8 L174.8,778.8 L175.1,782.7 L175.4,786.7 L175.6,790.7 L175.9,794.7 L176.2,798.7 L176.5,802.7 L176.8,806.7 L177.1,810.7 L177.5,814.7 L177.8,818.7 L178.1,822.7 L178.4,826.7 L178.8,830.7 L179.1,834.7 L179.4,838.7 L179.8,842.7 L180.1,846.7 L180.5,850.7 L180.8,854.7 L181.2,858.7 L181.6,862.7 L182.0,866.7 L182.3,870.7 L182.7,874.7 L183.1,878.7 L183.5,882.8 L183.9,886.8 L184.3,890.8 L184.8,894.8 L185.2,898.8 L185.6,902.9 L186.0,906.9 L186.5,910.9 L186.9,915.0 L187.4,919.0 L187.9,923.0 L188.4,927.0 L189.0,931.0 L189.6,935.0 L190.2,939.0 L190.8,943.0 L191.5,947.0 L192.3,951.0 L193.0,954.9 L193.9,958.8 L194.8,962.7 L195.7,966.6 L196.7,970.5 L197.8,974.3 L198.9,978.2 L200.1,982.0 L201.4,985.7 L202.8,989.5 L204.2,993.2 L205.8,996.9 L207.4,1000.5 L209.1,1004.2 L210.9,1007.7 L212.8,1011.3 L214.8,1014.7 L217.0,1018.1 L219.2,1021.5 L221.6,1024.7 L224.0,1027.8 L226.6,1030.8 L229.4,1033.7 L232.2,1036.4 L235.2,1039.0 L238.4,1041.4 L241.6,1043.7 L245.0,1045.7 L248.5,1047.7 L252.1,1049.5 L255.6,1051.3 L259.3,1052.9 L262.9,1054.5 L266.6,1055.9 L270.3,1057.3 L274.1,1058.6 L277.9,1059.8 L281.7,1060.9 L285.5,1061.9 L289.4,1062.9 L293.3,1063.8 L297.2,1064.6 L301.2,1065.4 L305.1,1066.1 L309.1,1066.8 L313.1,1067.4 L317.1,1068.0 L321.1,1068.6 L325.1,1069.1 L329.1,1069.5 L333.2,1070.0 L337.2,1070.4 L341.3,1070.8 L345.3,1071.1 L349.4,1071.5 L353.4,1071.8 L357.5,1072.2 L361.6,1072.5 L365.6,1072.8 L369.6,1073.1 L373.7,1073.4 L377.7,1073.7 L381.8,1074.0 L385.8,1074.3 L389.8,1074.6 L393.9,1074.8 L397.9,1075.1 L401.9,1075.4 L405.9,1075.6 L410.0,1075.9 L414.0,1076.1 L418.0,1076.3 L422.0,1076.6 L426.0,1076.8 L430.1,1077.0 L434.1,1077.2 L438.1,1077.5 L442.1,1077.7 L446.1,1077.9 L450.1,1078.1 L454.1,1078.2 L458.1,1078.4 L462.1,1078.6 L466.1,1078.8 L470.1,1079.0 L474.1,1079.1 L478.1,1079.3 L482.1,1079.5 L486.1,1079.6 L490.1,1079.8 L494.1,1079.9 L498.1,1080.1 L502.1,1080.2 L506.1,1080.3 L510.1,1080.5 L514.1,1080.6 L518.1,1080.7 L522.1,1080.8 L526.1,1081.0 L530.1,1081.1 L534.1,1081.2 L538.0,1081.3 L542.0,1081.4 L546.0,1081.5 L550.0,1081.6 L554.0,1081.7 L558.0,1081.8 L562.0,1081.9 L566.0,1082.0 L570.0,1082.1 L574.0,1082.2 L578.0,1082.2 L582.0,1082.3 L586.0,1082.4 L590.0,1082.5 L594.0,1082.5 L598.0,1082.6 L602.0,1082.7 L606.0,1082.8 L610.0,1082.8 L614.1,1082.9 L618.1,1083.0 L622.1,1083.0 L626.1,1083.1 L630.1,1083.2 L634.1,1083.2 L638.1,1083.3 L642.1,1083.3 L646.2,1083.4 L650.2,1083.4 L654.2,1083.5 L658.2,1083.5 L662.2,1083.6 L666.2,1083.6 L670.3,1083.7 L674.3,1083.7 L678.3,1083.8 L682.3,1083.8 L686.3,1083.9 L690.4,1083.9 L694.4,1084.0 L698.4,1084.0 L702.4,1084.0 L706.4,1084.1 L710.5,1084.1 L714.5,1084.1 L718.5,1084.2 L722.5,1084.2 L726.6,1084.2 L730.6,1084.3 L734.6,1084.3 L738.6,1084.3 L742.6,1084.4 L746.7,1084.4 L750.7,1084.4 L754.7,1084.5 L758.7,1084.5 L762.8,1084.5 L766.8,1084.6 L770.8,1084.6 L774.8,1084.6 L778.8,1084.6 L782.9,1084.7 L786.9,1084.7 L790.9,1084.7 L794.9,1084.7 L799.0,1084.8 L803.0,1084.8 L807.0,1084.8 L811.0,1084.8 L815.0,1084.9 L819.0,1084.9 L823.1,1084.9 L827.1,1084.9 L831.1,1085.0 L835.1,1085.0 L839.1,1085.0 L843.1,1085.0 L847.2,1085.1 L851.2,1085.1 L855.2,1085.1 L859.2,1085.2 L863.2,1085.2 L867.2,1085.2 L871.2,1085.2 L875.2,1085.3 L879.2,1085.3 L883.2,1085.3 L887.2,1085.4 L891.2,1085.4 L895.2,1085.4 L899.2,1085.4 L903.2,1085.5 L907.2,1085.5 L911.2,1085.5 L915.2,1085.6 L919.2,1085.6 L923.2,1085.7 L927.2,1085.7" fill="none" stroke="#E19C24" stroke-width="4.4"/>
<path d="M444.3,602.0 L444.3,606.0 L444.3,610.1 L444.3,614.1 L444.3,618.1 L444.3,622.2 L444.4,626.2 L444.4,630.2 L444.5,634.3 L444.5,638.3 L444.5,642.3 L444.6,646.3 L444.6,650.4 L444.7,654.4 L444.8,658.4 L444.8,662.5 L444.9,666.5 L445.0,670.5 L445.0,674.5 L445.1,678.6 L445.2,682.6 L445.3,686.6 L445.4,690.6 L445.5,694.6 L445.5,698.7 L445.6,702.7 L445.7,706.7 L445.8,710.7 L445.9,714.8 L446.1,718.8 L446.2,722.8 L446.3,726.8 L446.4,730.8 L446.5,734.9 L446.6,738.9 L446.7,742.9 L446.8,746.9 L447.0,750.9 L447.1,755.0 L447.2,759.0 L447.3,763.0 L447.5,767.0 L447.6,771.0 L447.7,775.1 L447.9,779.1 L448.0,783.1 L448.1,787.1 L448.3,791.1 L448.4,795.2 L448.6,799.2 L448.7,803.2 L448.8,807.2 L449.0,811.2 L449.1,815.2 L449.3,819.3 L449.4,823.3 L449.5,827.3 L449.7,831.3 L449.8,835.3 L450.0,839.4 L450.1,843.4 L450.3,847.4 L450.4,851.4 L450.6,855.5 L450.7,859.5 L450.8,863.5 L451.0,867.5 L451.1,871.5 L451.3,875.6 L451.4,879.6 L451.6,883.6 L451.7,887.6 L451.8,891.7 L452.0,895.7 L452.1,899.7 L452.3,903.7 L452.4,907.8 L452.5,911.8 L452.7,915.8 L452.8,919.9 L453.0,923.9 L453.2,927.9 L453.3,931.9 L453.5,936.0 L453.7,940.0 L454.0,944.0 L454.2,948.0 L454.5,952.1 L454.8,956.1 L455.1,960.1 L455.5,964.1 L455.9,968.1 L456.3,972.1 L456.8,976.2 L457.3,980.2 L457.8,984.2 L458.4,988.2 L459.0,992.2 L459.7,996.2 L460.5,1000.2 L461.3,1004.1 L462.1,1008.1 L463.0,1012.1 L463.9,1016.1 L465.0,1020.0 L466.1,1024.0 L467.3,1027.9 L468.6,1031.7 L470.1,1035.4 L471.6,1039.0 L473.4,1042.6 L475.3,1046.0 L477.3,1049.2 L479.6,1052.3 L482.1,1055.2 L484.8,1057.9 L487.7,1060.4 L490.8,1062.7 L494.2,1064.8 L497.7,1066.7 L501.3,1068.4 L505.0,1070.0 L508.9,1071.5 L512.8,1072.7 L516.7,1073.9 L520.7,1075.0 L524.7,1075.9 L528.7,1076.7 L532.8,1077.5 L536.8,1078.1 L540.8,1078.7 L544.8,1079.2 L548.9,1079.6 L552.9,1079.9 L557.0,1080.2 L561.0,1080.5 L565.1,1080.7 L569.1,1080.8 L573.2,1081.0 L577.2,1081.1 L581.3,1081.2 L585.3,1081.3 L589.4,1081.3 L593.4,1081.4 L597.4,1081.5 L601.5,1081.6 L605.5,1081.7 L609.5,1081.8 L613.5,1081.9 L617.5,1082.1 L621.5,1082.2 L625.5,1082.3 L629.5,1082.4 L633.6,1082.5 L637.6,1082.6 L641.6,1082.7 L645.6,1082.8 L649.6,1082.9 L653.6,1083.0 L657.6,1083.1 L661.6,1083.2 L665.6,1083.3 L669.6,1083.4 L673.6,1083.5 L677.6,1083.5 L681.7,1083.6 L685.7,1083.7 L689.7,1083.8 L693.7,1083.8 L697.7,1083.9 L701.8,1083.9 L705.8,1084.0 L709.8,1084.0 L713.8,1084.1 L717.9,1084.1 L721.9,1084.2 L725.9,1084.2 L729.9,1084.3 L734.0,1084.3 L738.0,1084.4 L742.0,1084.4 L746.1,1084.4 L750.1,1084.5 L754.1,1084.5 L758.1,1084.5 L762.2,1084.6 L766.2,1084.6 L770.2,1084.6 L774.3,1084.6 L778.3,1084.7 L782.3,1084.7 L786.4,1084.7 L790.4,1084.7 L794.4,1084.7 L798.5,1084.8 L802.5,1084.8 L806.5,1084.8 L810.6,1084.8 L814.6,1084.8 L818.6,1084.8 L822.7,1084.9 L826.7,1084.9 L830.7,1084.9 L834.8,1084.9 L838.8,1084.9 L842.8,1084.9 L846.9,1084.9 L850.9,1085.0 L854.9,1085.0 L858.9,1085.0 L863.0,1085.0 L867.0,1085.0 L871.0,1085.1 L875.0,1085.1 L879.1,1085.1 L883.1,1085.1 L887.1,1085.1 L891.1,1085.2 L895.1,1085.2 L899.2,1085.2 L903.2,1085.2 L907.2,1085.3 L911.2,1085.3 L915.2,1085.3 L919.2,1085.4 L923.2,1085.4 L927.3,1085.5" fill="none" stroke="#EB6235" stroke-width="4.4"/>
<path d="M51.6,632.5 L52.6,636.4 L53.6,640.3 L54.5,644.2 L55.5,648.1 L56.4,652.0 L57.3,655.9 L58.2,659.9 L59.1,663.8 L60.0,667.7 L60.9,671.6 L61.8,675.6 L62.7,679.5 L63.6,683.4 L64.5,687.4 L65.4,691.3 L66.2,695.3 L67.1,699.2 L68.0,703.2 L68.8,707.1 L69.7,711.0 L70.6,715.0 L71.5,718.9 L72.3,722.9 L73.2,726.8 L74.1,730.7 L74.9,734.7 L75.8,738.6 L76.7,742.5 L77.6,746.5 L78.5,750.4 L79.4,754.3 L80.3,758.2 L81.2,762.1 L82.2,766.0 L83.1,769.9 L84.1,773.8 L85.0,777.7 L86.0,781.6 L86.9,785.5 L87.9,789.4 L88.9,793.3 L89.9,797.1 L90.9,801.0 L92.0,804.9 L93.0,808.7 L94.0,812.6 L95.1,816.4 L96.1,820.3 L97.2,824.2 L98.2,828.0 L99.3,831.9 L100.4,835.7 L101.4,839.6 L102.5,843.5 L103.6,847.3 L104.7,851.2 L105.8,855.1 L106.9,858.9 L108.0,862.8 L109.1,866.7 L110.2,870.6 L111.4,874.5 L112.5,878.4 L113.6,882.3 L114.7,886.2 L115.9,890.1 L117.0,894.0 L118.1,897.9 L119.3,901.9 L120.5,905.8 L121.7,909.7 L122.9,913.6 L124.1,917.5 L125.4,921.3 L126.7,925.2 L128.1,929.0 L129.4,932.9 L130.9,936.7 L132.3,940.5 L133.8,944.2 L135.4,948.0 L137.0,951.7 L138.6,955.3 L140.3,959.0 L142.1,962.6 L144.0,966.2 L145.9,969.7 L147.8,973.2 L149.9,976.6 L152.0,980.0 L154.2,983.4 L156.4,986.7 L158.7,989.9 L161.1,993.1 L163.6,996.3 L166.1,999.3 L168.7,1002.4 L171.4,1005.3 L174.1,1008.2 L176.9,1011.0 L179.8,1013.7 L182.7,1016.4 L185.7,1018.9 L188.8,1021.4 L192.0,1023.8 L195.2,1026.1 L198.5,1028.4 L201.8,1030.5 L205.2,1032.6 L208.7,1034.6 L212.2,1036.5 L215.7,1038.4 L219.3,1040.2 L223.0,1041.9 L226.6,1043.6 L230.4,1045.2 L234.1,1046.7 L237.9,1048.1 L241.7,1049.5 L245.6,1050.9 L249.4,1052.2 L253.3,1053.4 L257.2,1054.6 L261.1,1055.7 L265.1,1056.8 L269.0,1057.8 L273.0,1058.8 L276.9,1059.7 L280.9,1060.6 L284.8,1061.5 L288.8,1062.3 L292.7,1063.1 L296.7,1063.8 L300.7,1064.5 L304.7,1065.2 L308.7,1065.9 L312.6,1066.5 L316.6,1067.1 L320.6,1067.6 L324.6,1068.2 L328.6,1068.7 L332.6,1069.2 L336.6,1069.6 L340.6,1070.1 L344.6,1070.5 L348.6,1070.9 L352.6,1071.4 L356.6,1071.8 L360.6,1072.1 L364.6,1072.5 L368.6,1072.9 L372.6,1073.2 L376.6,1073.6 L380.7,1073.9 L384.7,1074.3 L388.7,1074.6 L392.7,1074.9 L396.7,1075.2 L400.7,1075.5 L404.7,1075.8 L408.7,1076.0 L412.7,1076.3 L416.7,1076.6 L420.8,1076.8 L424.8,1077.1 L428.8,1077.3 L432.8,1077.5 L436.8,1077.8 L440.8,1078.0 L444.9,1078.2 L448.9,1078.4 L452.9,1078.6 L456.9,1078.8 L460.9,1079.0 L464.9,1079.1 L469.0,1079.3 L473.0,1079.5 L477.0,1079.6 L481.0,1079.8 L485.0,1079.9 L489.0,1080.1 L493.1,1080.2 L497.1,1080.3 L501.1,1080.5 L505.1,1080.6 L509.2,1080.7 L513.2,1080.8 L517.2,1080.9 L521.2,1081.0 L525.2,1081.1 L529.3,1081.2 L533.3,1081.3 L537.3,1081.4 L541.3,1081.5 L545.4,1081.6 L549.4,1081.6 L553.4,1081.7 L557.4,1081.8 L561.5,1081.9 L565.5,1081.9 L569.5,1082.0 L573.5,1082.1 L577.6,1082.1 L581.6,1082.2 L585.6,1082.3 L589.6,1082.3 L593.7,1082.4 L597.7,1082.4 L601.7,1082.5 L605.7,1082.5 L609.8,1082.6 L613.8,1082.6 L617.8,1082.7 L621.9,1082.7 L625.9,1082.8 L629.9,1082.8 L633.9,1082.9 L638.0,1082.9 L642.0,1083.0 L646.0,1083.0 L650.0,1083.1 L654.1,1083.2 L658.1,1083.2 L662.1,1083.3 L666.2,1083.3 L670.2,1083.4 L674.2,1083.4 L678.2,1083.5 L682.3,1083.6 L686.3,1083.6 L690.3,1083.7 L694.4,1083.8 L698.4,1083.9 L702.4,1083.9" fill="none" stroke="#000" stroke-width="4.6" stroke-dasharray="14,8" stroke-dashoffset="0"/>
<path d="M44.0,1088.0 h7.5 M44.0,1068.1 h4.5 M44.0,1048.3 h4.5 M44.0,1028.4 h4.5 M44.0,1008.6 h4.5 M44.0,988.7 h7.5 M44.0,968.8 h4.5 M44.0,949.0 h4.5 M44.0,929.1 h4.5 M44.0,909.3 h4.5 M44.0,889.4 h7.5 M44.0,869.5 h4.5 M44.0,849.7 h4.5 M44.0,829.8 h4.5 M44.0,810.0 h4.5 M44.0,790.1 h7.5 M44.0,770.2 h4.5 M44.0,750.4 h4.5 M44.0,730.5 h4.5 M44.0,710.7 h4.5 M44.0,690.8 h7.5 M44.0,670.9 h4.5 M44.0,651.1 h4.5 M44.0,631.2 h4.5 M44.0,611.4 h4.5 M44.0,591.5 h7.5 M44.0,571.6 h4.5 M88.2,1088.0 v-4.5 M132.3,1088.0 v-4.5 M176.5,1088.0 v-4.5 M220.7,1088.0 v-7.5 M264.8,1088.0 v-4.5 M309.0,1088.0 v-4.5 M353.2,1088.0 v-4.5 M397.3,1088.0 v-7.5 M441.5,1088.0 v-4.5 M485.6,1088.0 v-4.5 M529.8,1088.0 v-4.5 M574.0,1088.0 v-7.5 M618.1,1088.0 v-4.5 M662.3,1088.0 v-4.5 M706.5,1088.0 v-4.5 M750.6,1088.0 v-7.5 M794.8,1088.0 v-4.5 M839.0,1088.0 v-4.5 M883.1,1088.0 v-4.5" stroke="#000" stroke-width="1.5" fill="none"/>
<path d="M44.0,1089.0 V562 M43.0,1088.0 H908" stroke="#000" stroke-width="2" fill="none"/>
<path d="M44.0,542.6 L50.3,565 Q44.0,559 37.7,565 Z" fill="#000"/>
<path d="M927.5,1088.0 L905,1082.0 Q911,1088.0 905,1094.0 Z" fill="#000"/>
<text x="33.5" y="1095.6" text-anchor="end" font-family="Liberation Serif, serif" font-size="25">0.0</text>
<text x="33.5" y="996.3" text-anchor="end" font-family="Liberation Serif, serif" font-size="25">0.1</text>
<text x="33.5" y="897.0" text-anchor="end" font-family="Liberation Serif, serif" font-size="25">0.2</text>
<text x="33.5" y="797.7" text-anchor="end" font-family="Liberation Serif, serif" font-size="25">0.3</text>
<text x="33.5" y="698.4" text-anchor="end" font-family="Liberation Serif, serif" font-size="25">0.4</text>
<text x="33.5" y="599.1" text-anchor="end" font-family="Liberation Serif, serif" font-size="25">0.5</text>
<text x="44.0" y="1120" text-anchor="middle" font-family="Liberation Serif, serif" font-size="25">0</text>
<text x="220.7" y="1120" text-anchor="middle" font-family="Liberation Serif, serif" font-size="25">2</text>
<text x="397.3" y="1120" text-anchor="middle" font-family="Liberation Serif, serif" font-size="25">4</text>
<text x="574.0" y="1120" text-anchor="middle" font-family="Liberation Serif, serif" font-size="25">6</text>
<text x="750.6" y="1120" text-anchor="middle" font-family="Liberation Serif, serif" font-size="25">8</text>
<text x="944" y="1097" font-family="Liberation Serif, serif" font-size="36" font-style="italic">n</text>
<text x="480" y="1172" text-anchor="middle" font-family="Liberation Serif, serif" font-size="35">(b)</text>
<text x="5.5" y="524.6" font-family="Liberation Serif, serif" font-size="36" font-style="italic">V̄</text>
<text x="26.8" y="528.7" font-family="Liberation Serif, serif" font-size="25.5" font-style="italic" letter-spacing="2.6">post</text>
<line x1="737.6" y1="576.0" x2="790" y2="576.0" stroke="#5E81B5" stroke-width="3.6"/>
<text x="811.5" y="588.3" font-family="Liberation Serif, serif" font-size="38.2">s = 0.0</text>
<line x1="737.6" y1="640.5" x2="790" y2="640.5" stroke="#8FB032" stroke-width="3.6"/>
<text x="811.5" y="652.8" font-family="Liberation Serif, serif" font-size="38.2">s = 0.5</text>
<line x1="737.6" y1="705.0" x2="790" y2="705.0" stroke="#E19C24" stroke-width="3.6"/>
<text x="811.5" y="717.3" font-family="Liberation Serif, serif" font-size="38.2">s = 1.0</text>
<line x1="737.6" y1="769.5" x2="790" y2="769.5" stroke="#EB6235" stroke-width="3.6"/>
<text x="811.5" y="781.8" font-family="Liberation Serif, serif" font-size="38.2">s = 1.5</text>
</g>
<g id="panel_c">
<defs><linearGradient id="sgrad" gradientUnits="userSpaceOnUse" x1="300" y1="1250" x2="380" y2="1760">
<stop offset="0" stop-color="#dff8f2"/><stop offset="0.12" stop-color="#dcf4f0"/><stop offset="0.27" stop-color="#daecf1"/><stop offset="0.42" stop-color="#dbe4f1"/><stop offset="0.6" stop-color="#dddcee"/><stop offset="0.8" stop-color="#dfd7eb"/><stop offset="1" stop-color="#e0d6e9"/></linearGradient>
<clipPath id="sclip"><path d="M123.8,1376.3 L473.0,1250.1 L475.4,1253.4 L477.9,1256.7 L480.4,1260.0 L482.9,1263.3 L485.5,1266.5 L488.1,1269.7 L490.7,1272.9 L493.3,1276.0 L496.0,1279.1 L498.7,1282.2 L501.4,1285.3 L504.1,1288.3 L506.9,1291.3 L509.6,1294.3 L512.4,1297.2 L515.3,1300.1 L518.1,1303.0 L521.0,1305.9 L523.9,1308.7 L526.8,1311.5 L529.7,1314.3 L532.7,1317.1 L535.6,1319.8 L538.6,1322.5 L541.7,1325.2 L544.7,1327.8 L547.8,1330.4 L550.8,1333.0 L553.9,1335.6 L557.0,1338.2 L560.2,1340.7 L563.3,1343.2 L566.5,1345.7 L569.7,1348.1 L572.9,1350.6 L576.1,1353.0 L579.4,1355.4 L582.6,1357.7 L585.9,1360.1 L589.2,1362.4 L592.5,1364.7 L595.9,1366.9 L599.2,1369.2 L602.6,1371.4 L606.0,1373.6 L609.4,1375.8 L612.8,1378.0 L616.2,1380.1 L619.6,1382.2 L623.1,1384.3 L626.6,1386.4 L630.0,1388.4 L633.5,1390.5 L637.0,1392.5 L640.6,1394.5 L644.1,1396.4 L647.7,1398.4 L651.2,1400.3 L654.8,1402.2 L658.4,1404.1 L662.0,1406.0 L665.6,1407.9 L669.2,1409.7 L672.8,1411.5 L676.5,1413.3 L680.1,1415.1 L683.8,1416.9 L687.5,1418.6 L691.2,1420.4 L694.9,1422.1 L698.6,1423.8 L702.3,1425.4 L706.0,1427.1 L709.7,1428.7 L713.5,1430.4 L717.2,1432.0 L721.0,1433.6 L724.7,1435.2 L728.5,1436.7 L732.3,1438.3 L736.1,1439.8 L739.9,1441.3 L743.7,1442.8 L747.5,1444.3 L751.3,1445.8 L755.1,1447.3 L758.9,1448.7 L762.8,1450.1 L766.6,1451.5 L770.4,1453.0 L774.3,1454.3 L778.1,1455.7 L782.0,1457.1 L785.8,1458.4 L789.7,1459.8 L793.6,1461.1 L797.4,1462.4 L801.3,1463.7 L805.2,1465.0 L809.1,1466.3 L812.9,1467.5 L816.8,1468.8 L820.7,1470.0 L824.6,1471.3 L828.5,1472.5 L832.3,1473.7 L836.2,1474.9 L840.1,1476.1 L844.0,1477.3 L847.9,1478.4 L851.8,1479.6 L855.7,1480.7 L859.5,1481.9 L863.4,1483.0 L867.3,1484.1 L871.2,1485.2 L875.1,1486.4 L879.0,1487.4 L882.8,1488.5 L886.7,1489.6 L890.6,1490.7 L894.4,1491.8 L898.3,1492.8 L902.2,1493.9 L906.0,1494.9 L909.9,1495.9 L913.7,1497.0 L917.6,1498.0 L921.4,1499.0 L925.3,1500.0 L929.1,1501.0 L932.9,1502.0 L936.7,1503.0 L940.6,1504.0 L938.2,1506.4 L935.5,1509.5 L932.8,1512.6 L930.1,1515.6 L927.4,1518.7 L924.7,1521.7 L922.0,1524.8 L919.2,1527.8 L916.5,1530.8 L913.7,1533.8 L910.9,1536.8 L908.1,1539.7 L905.3,1542.7 L902.5,1545.6 L899.7,1548.6 L896.8,1551.5 L894.0,1554.4 L891.1,1557.3 L888.3,1560.2 L885.4,1563.1 L882.5,1565.9 L879.6,1568.8 L876.7,1571.6 L873.8,1574.5 L870.9,1577.3 L867.9,1580.1 L865.0,1582.9 L862.1,1585.7 L859.1,1588.5 L856.1,1591.3 L853.2,1594.1 L850.2,1596.9 L847.2,1599.6 L844.2,1602.4 L841.2,1605.1 L838.2,1607.9 L835.2,1610.6 L832.2,1613.3 L829.1,1616.0 L826.1,1618.7 L823.1,1621.5 L820.0,1624.2 L817.0,1626.8 L813.9,1629.5 L810.8,1632.2 L807.8,1634.9 L804.7,1637.6 L801.6,1640.2 L798.6,1642.9 L795.5,1645.6 L792.4,1648.2 L789.3,1650.9 L786.2,1653.5 L783.1,1656.2 L780.0,1658.8 L776.9,1661.4 L773.8,1664.1 L770.7,1666.7 L767.6,1669.3 L764.5,1671.9 L761.4,1674.6 L758.2,1677.2 L755.1,1679.8 L752.0,1682.4 L748.9,1685.0 L745.8,1687.7 L742.7,1690.3 L739.5,1692.9 L736.4,1695.5 L733.3,1698.1 L730.2,1700.7 L727.1,1703.3 L723.9,1705.9 L720.8,1708.6 L717.7,1711.2 L714.6,1713.8 L711.5,1716.4 L708.4,1719.0 L705.2,1721.6 L702.1,1724.2 L699.0,1726.9 L695.9,1729.5 L692.8,1732.1 L689.7,1734.7 L686.6,1737.4 L683.5,1740.0 L680.4,1742.6 L677.3,1745.3 L674.3,1747.9 L671.2,1750.5 L668.1,1750.3 L664.2,1749.4 L660.3,1748.5 L656.4,1747.6 L652.5,1746.6 L648.6,1745.7 L644.7,1744.8 L640.8,1743.8 L636.9,1742.8 L633.0,1741.9 L629.1,1740.9 L625.2,1739.9 L621.3,1738.8 L617.4,1737.8 L613.5,1736.8 L609.6,1735.7 L605.7,1734.7 L601.9,1733.6 L598.0,1732.6 L594.1,1731.5 L590.2,1730.4 L586.3,1729.3 L582.4,1728.2 L578.6,1727.1 L574.7,1726.0 L570.8,1724.9 L566.9,1723.8 L563.0,1722.6 L559.2,1721.5 L555.3,1720.4 L551.4,1719.2 L547.5,1718.1 L543.7,1716.9 L539.8,1715.8 L535.9,1714.6 L532.1,1713.4 L528.2,1712.3 L524.3,1711.1 L520.5,1710.0 L516.6,1708.8 L512.7,1707.6 L508.9,1706.5 L505.0,1705.3 L501.1,1704.1 L497.3,1702.9 L493.4,1701.8 L489.5,1700.6 L485.7,1699.4 L481.8,1698.3 L478.0,1697.1 L474.1,1696.0 L470.2,1694.8 L466.4,1693.6 L462.5,1692.5 L458.7,1691.3 L454.8,1690.2 L450.9,1689.1 L447.1,1687.9 L443.2,1686.8 L439.4,1685.7 L435.5,1684.5 L431.6,1683.4 L427.8,1682.3 L423.9,1681.2 L420.1,1680.1 L416.2,1679.0 L412.4,1677.9 L408.5,1676.8 L404.6,1675.7 L400.8,1674.6 L396.9,1673.5 L393.1,1672.4 L389.2,1671.3 L385.4,1670.2 L381.5,1669.1 L377.7,1668.0 L373.8,1666.9 L369.9,1665.8 L366.1,1664.7 L362.2,1663.5 L358.4,1662.4 L354.5,1661.3 L350.7,1660.2 L346.8,1659.1 L343.0,1657.9 L339.1,1656.8 L335.3,1655.6 L331.4,1654.5 L327.6,1653.3 L323.7,1652.2 L319.9,1651.0 L316.0,1649.8 L312.2,1648.6 L308.3,1647.4 L304.5,1646.2 L300.7,1645.0 L296.8,1643.8 L293.0,1642.5 L289.1,1641.3 L285.3,1640.0 L281.4,1638.8 L277.6,1637.5 L273.8,1636.2 L269.9,1634.9 L266.1,1633.6 L262.2,1632.3 L258.4,1630.9 L254.6,1629.6 L250.7,1628.2 L246.9,1626.8 L243.0,1625.4 L239.2,1624.0 L235.4,1622.6 L231.5,1621.1 L227.7,1619.6 L223.9,1618.2 L220.1,1616.7 L216.3,1615.1 L212.5,1613.5 L208.7,1611.9 L205.0,1610.3 L201.4,1608.5 L197.8,1606.7 L194.3,1604.9 L190.8,1602.9 L187.4,1600.9 L184.2,1598.8 L181.0,1596.6 L177.9,1594.3 L175.0,1591.9 L172.1,1589.3 L169.4,1586.7 L166.9,1583.9 L164.4,1581.0 L162.2,1577.9 L160.1,1574.7 L158.2,1571.3 L156.4,1567.9 L154.8,1564.2 L153.3,1560.5 L151.9,1556.7 L150.6,1552.8 L149.5,1548.8 L148.4,1544.8 L147.4,1540.7 L146.5,1536.5 L145.7,1532.4 L144.9,1528.2 L144.2,1524.0 L143.5,1519.8 L142.9,1515.7 L142.2,1511.6 L141.6,1507.5 L141.0,1503.4 L140.4,1499.3 L139.9,1495.3 L139.4,1491.2 L138.8,1487.2 L138.3,1483.2 L137.8,1479.2 L137.3,1475.3 L136.9,1471.3 L136.4,1467.4 L135.9,1463.4 L135.5,1459.5 L135.0,1455.6 L134.5,1451.6 L134.1,1447.7 L133.6,1443.8 L133.1,1439.9 L132.6,1436.0 L132.2,1432.1 L131.7,1428.1 L131.2,1424.2 L130.6,1420.3 L130.1,1416.4 L129.6,1412.4 L129.0,1408.5 L128.4,1404.5 L127.8,1400.5 L127.2,1396.5 L126.5,1392.5 L125.8,1388.5 L125.1,1384.5 L124.4,1380.4 L123.6,1376.3 Z"/></clipPath></defs>
<path d="M123.8,1376.3 L473.0,1250.1 L475.4,1253.4 L477.9,1256.7 L480.4,1260.0 L482.9,1263.3 L485.5,1266.5 L488.1,1269.7 L490.7,1272.9 L493.3,1276.0 L496.0,1279.1 L498.7,1282.2 L501.4,1285.3 L504.1,1288.3 L506.9,1291.3 L509.6,1294.3 L512.4,1297.2 L515.3,1300.1 L518.1,1303.0 L521.0,1305.9 L523.9,1308.7 L526.8,1311.5 L529.7,1314.3 L532.7,1317.1 L535.6,1319.8 L538.6,1322.5 L541.7,1325.2 L544.7,1327.8 L547.8,1330.4 L550.8,1333.0 L553.9,1335.6 L557.0,1338.2 L560.2,1340.7 L563.3,1343.2 L566.5,1345.7 L569.7,1348.1 L572.9,1350.6 L576.1,1353.0 L579.4,1355.4 L582.6,1357.7 L585.9,1360.1 L589.2,1362.4 L592.5,1364.7 L595.9,1366.9 L599.2,1369.2 L602.6,1371.4 L606.0,1373.6 L609.4,1375.8 L612.8,1378.0 L616.2,1380.1 L619.6,1382.2 L623.1,1384.3 L626.6,1386.4 L630.0,1388.4 L633.5,1390.5 L637.0,1392.5 L640.6,1394.5 L644.1,1396.4 L647.7,1398.4 L651.2,1400.3 L654.8,1402.2 L658.4,1404.1 L662.0,1406.0 L665.6,1407.9 L669.2,1409.7 L672.8,1411.5 L676.5,1413.3 L680.1,1415.1 L683.8,1416.9 L687.5,1418.6 L691.2,1420.4 L694.9,1422.1 L698.6,1423.8 L702.3,1425.4 L706.0,1427.1 L709.7,1428.7 L713.5,1430.4 L717.2,1432.0 L721.0,1433.6 L724.7,1435.2 L728.5,1436.7 L732.3,1438.3 L736.1,1439.8 L739.9,1441.3 L743.7,1442.8 L747.5,1444.3 L751.3,1445.8 L755.1,1447.3 L758.9,1448.7 L762.8,1450.1 L766.6,1451.5 L770.4,1453.0 L774.3,1454.3 L778.1,1455.7 L782.0,1457.1 L785.8,1458.4 L789.7,1459.8 L793.6,1461.1 L797.4,1462.4 L801.3,1463.7 L805.2,1465.0 L809.1,1466.3 L812.9,1467.5 L816.8,1468.8 L820.7,1470.0 L824.6,1471.3 L828.5,1472.5 L832.3,1473.7 L836.2,1474.9 L840.1,1476.1 L844.0,1477.3 L847.9,1478.4 L851.8,1479.6 L855.7,1480.7 L859.5,1481.9 L863.4,1483.0 L867.3,1484.1 L871.2,1485.2 L875.1,1486.4 L879.0,1487.4 L882.8,1488.5 L886.7,1489.6 L890.6,1490.7 L894.4,1491.8 L898.3,1492.8 L902.2,1493.9 L906.0,1494.9 L909.9,1495.9 L913.7,1497.0 L917.6,1498.0 L921.4,1499.0 L925.3,1500.0 L929.1,1501.0 L932.9,1502.0 L936.7,1503.0 L940.6,1504.0 L938.2,1506.4 L935.5,1509.5 L932.8,1512.6 L930.1,1515.6 L927.4,1518.7 L924.7,1521.7 L922.0,1524.8 L919.2,1527.8 L916.5,1530.8 L913.7,1533.8 L910.9,1536.8 L908.1,1539.7 L905.3,1542.7 L902.5,1545.6 L899.7,1548.6 L896.8,1551.5 L894.0,1554.4 L891.1,1557.3 L888.3,1560.2 L885.4,1563.1 L882.5,1565.9 L879.6,1568.8 L876.7,1571.6 L873.8,1574.5 L870.9,1577.3 L867.9,1580.1 L865.0,1582.9 L862.1,1585.7 L859.1,1588.5 L856.1,1591.3 L853.2,1594.1 L850.2,1596.9 L847.2,1599.6 L844.2,1602.4 L841.2,1605.1 L838.2,1607.9 L835.2,1610.6 L832.2,1613.3 L829.1,1616.0 L826.1,1618.7 L823.1,1621.5 L820.0,1624.2 L817.0,1626.8 L813.9,1629.5 L810.8,1632.2 L807.8,1634.9 L804.7,1637.6 L801.6,1640.2 L798.6,1642.9 L795.5,1645.6 L792.4,1648.2 L789.3,1650.9 L786.2,1653.5 L783.1,1656.2 L780.0,1658.8 L776.9,1661.4 L773.8,1664.1 L770.7,1666.7 L767.6,1669.3 L764.5,1671.9 L761.4,1674.6 L758.2,1677.2 L755.1,1679.8 L752.0,1682.4 L748.9,1685.0 L745.8,1687.7 L742.7,1690.3 L739.5,1692.9 L736.4,1695.5 L733.3,1698.1 L730.2,1700.7 L727.1,1703.3 L723.9,1705.9 L720.8,1708.6 L717.7,1711.2 L714.6,1713.8 L711.5,1716.4 L708.4,1719.0 L705.2,1721.6 L702.1,1724.2 L699.0,1726.9 L695.9,1729.5 L692.8,1732.1 L689.7,1734.7 L686.6,1737.4 L683.5,1740.0 L680.4,1742.6 L677.3,1745.3 L674.3,1747.9 L671.2,1750.5 L668.1,1750.3 L664.2,1749.4 L660.3,1748.5 L656.4,1747.6 L652.5,1746.6 L648.6,1745.7 L644.7,1744.8 L640.8,1743.8 L636.9,1742.8 L633.0,1741.9 L629.1,1740.9 L625.2,1739.9 L621.3,1738.8 L617.4,1737.8 L613.5,1736.8 L609.6,1735.7 L605.7,1734.7 L601.9,1733.6 L598.0,1732.6 L594.1,1731.5 L590.2,1730.4 L586.3,1729.3 L582.4,1728.2 L578.6,1727.1 L574.7,1726.0 L570.8,1724.9 L566.9,1723.8 L563.0,1722.6 L559.2,1721.5 L555.3,1720.4 L551.4,1719.2 L547.5,1718.1 L543.7,1716.9 L539.8,1715.8 L535.9,1714.6 L532.1,1713.4 L528.2,1712.3 L524.3,1711.1 L520.5,1710.0 L516.6,1708.8 L512.7,1707.6 L508.9,1706.5 L505.0,1705.3 L501.1,1704.1 L497.3,1702.9 L493.4,1701.8 L489.5,1700.6 L485.7,1699.4 L481.8,1698.3 L478.0,1697.1 L474.1,1696.0 L470.2,1694.8 L466.4,1693.6 L462.5,1692.5 L458.7,1691.3 L454.8,1690.2 L450.9,1689.1 L447.1,1687.9 L443.2,1686.8 L439.4,1685.7 L435.5,1684.5 L431.6,1683.4 L427.8,1682.3 L423.9,1681.2 L420.1,1680.1 L416.2,1679.0 L412.4,1677.9 L408.5,1676.8 L404.6,1675.7 L400.8,1674.6 L396.9,1673.5 L393.1,1672.4 L389.2,1671.3 L385.4,1670.2 L381.5,1669.1 L377.7,1668.0 L373.8,1666.9 L369.9,1665.8 L366.1,1664.7 L362.2,1663.5 L358.4,1662.4 L354.5,1661.3 L350.7,1660.2 L346.8,1659.1 L343.0,1657.9 L339.1,1656.8 L335.3,1655.6 L331.4,1654.5 L327.6,1653.3 L323.7,1652.2 L319.9,1651.0 L316.0,1649.8 L312.2,1648.6 L308.3,1647.4 L304.5,1646.2 L300.7,1645.0 L296.8,1643.8 L293.0,1642.5 L289.1,1641.3 L285.3,1640.0 L281.4,1638.8 L277.6,1637.5 L273.8,1636.2 L269.9,1634.9 L266.1,1633.6 L262.2,1632.3 L258.4,1630.9 L254.6,1629.6 L250.7,1628.2 L246.9,1626.8 L243.0,1625.4 L239.2,1624.0 L235.4,1622.6 L231.5,1621.1 L227.7,1619.6 L223.9,1618.2 L220.1,1616.7 L216.3,1615.1 L212.5,1613.5 L208.7,1611.9 L205.0,1610.3 L201.4,1608.5 L197.8,1606.7 L194.3,1604.9 L190.8,1602.9 L187.4,1600.9 L184.2,1598.8 L181.0,1596.6 L177.9,1594.3 L175.0,1591.9 L172.1,1589.3 L169.4,1586.7 L166.9,1583.9 L164.4,1581.0 L162.2,1577.9 L160.1,1574.7 L158.2,1571.3 L156.4,1567.9 L154.8,1564.2 L153.3,1560.5 L151.9,1556.7 L150.6,1552.8 L149.5,1548.8 L148.4,1544.8 L147.4,1540.7 L146.5,1536.5 L145.7,1532.4 L144.9,1528.2 L144.2,1524.0 L143.5,1519.8 L142.9,1515.7 L142.2,1511.6 L141.6,1507.5 L141.0,1503.4 L140.4,1499.3 L139.9,1495.3 L139.4,1491.2 L138.8,1487.2 L138.3,1483.2 L137.8,1479.2 L137.3,1475.3 L136.9,1471.3 L136.4,1467.4 L135.9,1463.4 L135.5,1459.5 L135.0,1455.6 L134.5,1451.6 L134.1,1447.7 L133.6,1443.8 L133.1,1439.9 L132.6,1436.0 L132.2,1432.1 L131.7,1428.1 L131.2,1424.2 L130.6,1420.3 L130.1,1416.4 L129.6,1412.4 L129.0,1408.5 L128.4,1404.5 L127.8,1400.5 L127.2,1396.5 L126.5,1392.5 L125.8,1388.5 L125.1,1384.5 L124.4,1380.4 L123.6,1376.3 Z" fill="url(#sgrad)"/>
<g clip-path="url(#sclip)" fill="none">
<path d="M126.1,1394.8 L130.0,1393.5 L133.9,1392.2 L137.7,1391.0 L141.6,1389.7 L145.4,1388.4 L149.3,1387.1 L153.1,1385.7 L156.9,1384.4 L160.8,1383.1 L164.6,1381.7 L168.4,1380.4 L172.3,1379.0 L176.1,1377.7 L179.9,1376.3 L183.7,1374.9 L187.6,1373.5 L191.4,1372.1 L195.2,1370.7 L199.0,1369.3 L202.8,1367.9 L206.6,1366.5 L210.4,1365.1 L214.2,1363.6 L218.0,1362.2 L221.8,1360.8 L225.6,1359.3 L229.4,1357.9 L233.2,1356.4 L237.0,1355.0 L240.8,1353.5 L244.6,1352.1 L248.4,1350.6 L252.2,1349.1 L256.0,1347.7 L259.8,1346.2 L263.6,1344.8 L267.4,1343.3 L271.2,1341.8 L275.0,1340.4 L278.8,1338.9 L282.6,1337.4 L286.3,1336.0 L290.1,1334.5 L293.9,1333.0 L297.7,1331.6 L301.5,1330.1 L305.3,1328.6 L309.1,1327.2 L312.9,1325.7 L316.7,1324.3 L320.5,1322.8 L324.3,1321.4 L328.1,1319.9 L331.9,1318.5 L335.7,1317.1 L339.5,1315.6 L343.3,1314.2 L347.1,1312.8 L350.9,1311.4 L354.7,1310.0 L358.5,1308.6 L362.4,1307.2 L366.2,1305.8 L370.0,1304.4 L373.8,1303.0 L377.6,1301.6 L381.5,1300.3 L385.3,1298.9 L389.1,1297.6 L393.0,1296.2 L396.8,1294.9 L400.6,1293.6 L404.5,1292.3 L408.3,1291.0 L412.2,1289.7 L416.0,1288.4 L419.9,1287.1 L423.8,1285.8 L427.6,1284.6 L431.5,1283.3 L435.4,1282.1 L439.2,1280.9 L443.1,1279.7 L447.0,1278.5 L450.9,1277.3 L454.8,1276.1 L458.7,1275.0 L462.6,1273.8 L466.5,1272.7 L470.4,1271.6 L474.3,1270.5 L478.3,1269.4 L482.2,1268.3 L486.1,1267.2" stroke="#4f9090" stroke-opacity="0.42" stroke-width="1"/>
<path d="M128.6,1419.2 L132.4,1417.9 L136.2,1416.6 L140.1,1415.2 L143.9,1413.8 L147.7,1412.5 L151.6,1411.1 L155.4,1409.7 L159.2,1408.3 L163.0,1406.9 L166.8,1405.4 L170.7,1404.0 L174.5,1402.6 L178.3,1401.1 L182.1,1399.7 L185.9,1398.2 L189.7,1396.7 L193.5,1395.3 L197.3,1393.8 L201.1,1392.3 L204.9,1390.8 L208.7,1389.3 L212.5,1387.8 L216.3,1386.3 L220.1,1384.8 L223.9,1383.3 L227.6,1381.8 L231.4,1380.3 L235.2,1378.8 L239.0,1377.2 L242.8,1375.7 L246.6,1374.2 L250.4,1372.7 L254.2,1371.2 L257.9,1369.6 L261.7,1368.1 L265.5,1366.6 L269.3,1365.1 L273.1,1363.6 L276.9,1362.0 L280.7,1360.5 L284.5,1359.0 L288.3,1357.5 L292.1,1356.0 L295.9,1354.5 L299.7,1353.0 L303.5,1351.5 L307.3,1350.0 L311.1,1348.6 L314.9,1347.1 L318.7,1345.6 L322.5,1344.2 L326.3,1342.7 L330.1,1341.3 L333.9,1339.8 L337.7,1338.4 L341.6,1337.0 L345.4,1335.6 L349.2,1334.2 L353.0,1332.8 L356.9,1331.4 L360.7,1330.0 L364.5,1328.6 L368.4,1327.3 L372.2,1325.9 L376.1,1324.6 L379.9,1323.3 L383.8,1322.0 L387.6,1320.7 L391.5,1319.4 L395.4,1318.2 L399.2,1316.9 L403.1,1315.7 L407.0,1314.5 L410.9,1313.3 L414.8,1312.1 L418.7,1310.9 L422.6,1309.7 L426.5,1308.6 L430.4,1307.5 L434.3,1306.4 L438.2,1305.3 L442.2,1304.2 L446.1,1303.1 L450.0,1302.1 L454.0,1301.1 L457.9,1300.1 L461.9,1299.1 L465.9,1298.2 L469.8,1297.2 L473.8,1296.3 L477.8,1295.4 L481.8,1294.6 L485.8,1293.7 L489.8,1292.9 L493.8,1292.1 L497.8,1291.3 L501.8,1290.6 L505.9,1289.9" stroke="#4f9090" stroke-opacity="0.42" stroke-width="1"/>
<path d="M132.3,1442.9 L136.1,1441.5 L139.9,1440.1 L143.6,1438.7 L147.4,1437.3 L151.2,1435.8 L155.0,1434.4 L158.8,1433.0 L162.6,1431.5 L166.3,1430.1 L170.1,1428.6 L173.9,1427.2 L177.7,1425.7 L181.5,1424.2 L185.2,1422.8 L189.0,1421.3 L192.8,1419.8 L196.6,1418.3 L200.3,1416.9 L204.1,1415.4 L207.9,1413.9 L211.7,1412.4 L215.4,1410.9 L219.2,1409.4 L223.0,1407.9 L226.8,1406.4 L230.5,1405.0 L234.3,1403.5 L238.1,1402.0 L241.9,1400.5 L245.6,1399.0 L249.4,1397.5 L253.2,1396.0 L257.0,1394.5 L260.8,1393.1 L264.6,1391.6 L268.3,1390.1 L272.1,1388.6 L275.9,1387.2 L279.7,1385.7 L283.5,1384.2 L287.3,1382.8 L291.1,1381.3 L294.9,1379.9 L298.7,1378.4 L302.4,1377.0 L306.2,1375.6 L310.0,1374.1 L313.9,1372.7 L317.7,1371.3 L321.5,1369.9 L325.3,1368.5 L329.1,1367.1 L332.9,1365.7 L336.7,1364.3 L340.5,1363.0 L344.4,1361.6 L348.2,1360.3 L352.0,1358.9 L355.8,1357.6 L359.7,1356.3 L363.5,1355.0 L367.3,1353.6 L371.2,1352.4 L375.0,1351.1 L378.9,1349.8 L382.7,1348.5 L386.6,1347.3 L390.4,1346.1 L394.3,1344.8 L398.2,1343.6 L402.0,1342.4 L405.9,1341.3 L409.8,1340.1 L413.7,1338.9 L417.5,1337.8 L421.4,1336.7 L425.3,1335.5 L429.2,1334.4 L433.1,1333.4 L437.0,1332.3 L440.9,1331.2 L444.8,1330.2 L448.8,1329.2 L452.7,1328.2 L456.6,1327.2 L460.5,1326.2 L464.5,1325.3 L468.4,1324.3 L472.4,1323.4 L476.3,1322.5 L480.3,1321.6 L484.2,1320.8 L488.2,1319.9 L492.2,1319.1 L496.1,1318.3 L500.1,1317.5 L504.1,1316.8 L508.1,1316.0 L512.1,1315.3 L516.1,1314.6 L520.1,1314.0 L524.1,1313.3 L528.2,1312.7" stroke="#4f9090" stroke-opacity="0.42" stroke-width="1"/>
<path d="M136.0,1466.4 L139.7,1464.9 L143.4,1463.4 L147.2,1461.8 L150.9,1460.3 L154.6,1458.8 L158.4,1457.3 L162.1,1455.8 L165.8,1454.3 L169.6,1452.8 L173.3,1451.3 L177.0,1449.8 L180.8,1448.3 L184.5,1446.8 L188.3,1445.3 L192.0,1443.8 L195.8,1442.3 L199.5,1440.8 L203.3,1439.3 L207.0,1437.9 L210.8,1436.4 L214.6,1434.9 L218.3,1433.4 L222.1,1432.0 L225.8,1430.5 L229.6,1429.0 L233.4,1427.6 L237.2,1426.1 L240.9,1424.7 L244.7,1423.2 L248.5,1421.8 L252.3,1420.3 L256.0,1418.9 L259.8,1417.5 L263.6,1416.1 L267.4,1414.6 L271.2,1413.2 L275.0,1411.8 L278.8,1410.4 L282.6,1409.0 L286.4,1407.6 L290.2,1406.3 L294.0,1404.9 L297.8,1403.5 L301.6,1402.2 L305.4,1400.8 L309.2,1399.5 L313.1,1398.1 L316.9,1396.8 L320.7,1395.5 L324.5,1394.2 L328.4,1392.9 L332.2,1391.6 L336.0,1390.3 L339.8,1389.0 L343.7,1387.8 L347.5,1386.5 L351.4,1385.2 L355.2,1384.0 L359.1,1382.8 L362.9,1381.6 L366.8,1380.3 L370.6,1379.1 L374.5,1378.0 L378.4,1376.8 L382.2,1375.6 L386.1,1374.5 L390.0,1373.3 L393.8,1372.2 L397.7,1371.0 L401.6,1369.9 L405.5,1368.8 L409.4,1367.7 L413.2,1366.7 L417.1,1365.6 L421.0,1364.6 L424.9,1363.5 L428.8,1362.5 L432.7,1361.5 L436.6,1360.5 L440.6,1359.5 L444.5,1358.5 L448.4,1357.6 L452.3,1356.6 L456.2,1355.7 L460.2,1354.8 L464.1,1353.9 L468.0,1353.0 L472.0,1352.1 L475.9,1351.3 L479.8,1350.4 L483.8,1349.6 L487.7,1348.8 L491.7,1348.0 L495.7,1347.2 L499.6,1346.5 L503.6,1345.7 L507.6,1345.0 L511.5,1344.3 L515.5,1343.6 L519.5,1342.9 L523.5,1342.2 L527.5,1341.6 L531.4,1340.9 L535.4,1340.3 L539.4,1339.7 L543.4,1339.2 L547.4,1338.6 L551.5,1338.1 L555.5,1337.6" stroke="#4f9090" stroke-opacity="0.42" stroke-width="1"/>
<path d="M139.6,1489.8 L143.3,1488.1 L147.0,1486.5 L150.7,1484.9 L154.4,1483.3 L158.1,1481.7 L161.8,1480.1 L165.5,1478.5 L169.3,1476.9 L173.0,1475.3 L176.7,1473.8 L180.4,1472.2 L184.2,1470.7 L187.9,1469.1 L191.7,1467.6 L195.4,1466.1 L199.2,1464.6 L202.9,1463.1 L206.7,1461.6 L210.4,1460.1 L214.2,1458.7 L218.0,1457.2 L221.7,1455.7 L225.5,1454.3 L229.3,1452.9 L233.1,1451.4 L236.9,1450.0 L240.7,1448.6 L244.5,1447.2 L248.3,1445.8 L252.1,1444.5 L255.9,1443.1 L259.7,1441.7 L263.5,1440.4 L267.3,1439.0 L271.2,1437.7 L275.0,1436.4 L278.8,1435.1 L282.6,1433.8 L286.5,1432.5 L290.3,1431.2 L294.2,1429.9 L298.0,1428.7 L301.8,1427.4 L305.7,1426.2 L309.6,1424.9 L313.4,1423.7 L317.3,1422.5 L321.1,1421.3 L325.0,1420.1 L328.9,1418.9 L332.8,1417.7 L336.6,1416.6 L340.5,1415.4 L344.4,1414.3 L348.3,1413.1 L352.2,1412.0 L356.1,1410.9 L360.0,1409.8 L363.8,1408.7 L367.7,1407.6 L371.7,1406.5 L375.6,1405.5 L379.5,1404.4 L383.4,1403.3 L387.3,1402.3 L391.2,1401.3 L395.1,1400.3 L399.0,1399.3 L403.0,1398.3 L406.9,1397.3 L410.8,1396.3 L414.7,1395.3 L418.7,1394.4 L422.6,1393.4 L426.6,1392.5 L430.5,1391.6 L434.4,1390.7 L438.4,1389.8 L442.3,1388.9 L446.3,1388.0 L450.2,1387.1 L454.2,1386.2 L458.1,1385.4 L462.1,1384.6 L466.0,1383.7 L470.0,1382.9 L474.0,1382.1 L477.9,1381.3 L481.9,1380.5 L485.9,1379.7 L489.8,1379.0 L493.8,1378.2 L497.8,1377.5 L501.8,1376.7 L505.7,1376.0 L509.7,1375.3 L513.7,1374.6 L517.7,1373.9 L521.7,1373.2 L525.7,1372.5 L529.6,1371.9 L533.6,1371.2 L537.6,1370.6 L541.6,1369.9 L545.6,1369.3 L549.6,1368.7 L553.6,1368.1 L557.6,1367.5 L561.6,1367.0 L565.6,1366.4 L569.6,1365.8 L573.6,1365.3 L577.6,1364.8 L581.6,1364.3 L585.6,1363.7 L589.6,1363.3" stroke="#5a80a0" stroke-opacity="0.42" stroke-width="1"/>
<path d="M144.2,1515.0 L147.9,1513.4 L151.6,1511.8 L155.3,1510.2 L159.0,1508.7 L162.7,1507.1 L166.4,1505.5 L170.1,1503.9 L173.8,1502.4 L177.5,1500.8 L181.3,1499.3 L185.0,1497.8 L188.7,1496.3 L192.4,1494.8 L196.2,1493.3 L199.9,1491.8 L203.7,1490.3 L207.4,1488.8 L211.2,1487.3 L214.9,1485.9 L218.7,1484.4 L222.5,1483.0 L226.2,1481.6 L230.0,1480.2 L233.8,1478.7 L237.6,1477.3 L241.4,1476.0 L245.2,1474.6 L248.9,1473.2 L252.7,1471.8 L256.5,1470.5 L260.3,1469.1 L264.2,1467.8 L268.0,1466.5 L271.8,1465.2 L275.6,1463.9 L279.4,1462.6 L283.2,1461.3 L287.1,1460.0 L290.9,1458.7 L294.7,1457.5 L298.6,1456.2 L302.4,1455.0 L306.3,1453.8 L310.1,1452.6 L314.0,1451.3 L317.8,1450.1 L321.7,1449.0 L325.5,1447.8 L329.4,1446.6 L333.3,1445.5 L337.1,1444.3 L341.0,1443.2 L344.9,1442.1 L348.8,1441.0 L352.6,1439.9 L356.5,1438.8 L360.4,1437.7 L364.3,1436.6 L368.2,1435.6 L372.1,1434.5 L376.0,1433.5 L379.9,1432.5 L383.8,1431.4 L387.7,1430.4 L391.6,1429.4 L395.5,1428.5 L399.4,1427.5 L403.4,1426.5 L407.3,1425.6 L411.2,1424.7 L415.1,1423.7 L419.1,1422.8 L423.0,1421.9 L426.9,1421.0 L430.9,1420.1 L434.8,1419.3 L438.7,1418.4 L442.7,1417.6 L446.6,1416.7 L450.6,1415.9 L454.5,1415.1 L458.5,1414.3 L462.4,1413.5 L466.4,1412.8 L470.3,1412.0 L474.3,1411.3 L478.3,1410.5 L482.2,1409.8 L486.2,1409.1 L490.2,1408.4 L494.1,1407.7 L498.1,1407.0 L502.1,1406.4 L506.1,1405.7 L510.1,1405.1 L514.0,1404.5 L518.0,1403.9 L522.0,1403.3 L526.0,1402.7 L530.0,1402.1 L534.0,1401.5 L538.0,1401.0 L542.0,1400.5 L546.0,1399.9 L550.0,1399.4 L554.0,1398.9 L558.0,1398.4 L562.0,1398.0 L566.0,1397.5 L570.0,1397.1 L574.0,1396.6 L578.0,1396.2 L582.0,1395.8 L586.0,1395.4 L590.0,1395.1 L594.1,1394.7 L598.1,1394.4 L602.1,1394.0 L606.1,1393.7 L610.1,1393.4 L614.2,1393.1 L618.2,1392.8 L622.2,1392.5 L626.2,1392.3 L630.3,1392.1 L634.3,1391.8" stroke="#5a80a0" stroke-opacity="0.42" stroke-width="1"/>
<path d="M149.9,1539.0 L153.6,1537.3 L157.3,1535.7 L161.1,1534.1 L164.8,1532.6 L168.5,1531.0 L172.2,1529.4 L176.0,1527.9 L179.7,1526.3 L183.4,1524.8 L187.2,1523.3 L190.9,1521.7 L194.7,1520.2 L198.4,1518.7 L202.2,1517.2 L206.0,1515.8 L209.7,1514.3 L213.5,1512.8 L217.3,1511.4 L221.1,1510.0 L224.9,1508.5 L228.7,1507.1 L232.5,1505.7 L236.2,1504.3 L240.1,1502.9 L243.9,1501.6 L247.7,1500.2 L251.5,1498.8 L255.3,1497.5 L259.1,1496.2 L262.9,1494.9 L266.8,1493.5 L270.6,1492.2 L274.4,1491.0 L278.3,1489.7 L282.1,1488.4 L285.9,1487.2 L289.8,1485.9 L293.6,1484.7 L297.5,1483.5 L301.4,1482.2 L305.2,1481.0 L309.1,1479.9 L312.9,1478.7 L316.8,1477.5 L320.7,1476.4 L324.6,1475.2 L328.4,1474.1 L332.3,1473.0 L336.2,1471.8 L340.1,1470.8 L344.0,1469.7 L347.9,1468.6 L351.8,1467.5 L355.7,1466.5 L359.6,1465.4 L363.5,1464.4 L367.4,1463.4 L371.3,1462.4 L375.2,1461.4 L379.2,1460.4 L383.1,1459.5 L387.0,1458.5 L390.9,1457.6 L394.9,1456.6 L398.8,1455.7 L402.7,1454.8 L406.7,1453.9 L410.6,1453.0 L414.6,1452.1 L418.5,1451.3 L422.4,1450.4 L426.4,1449.6 L430.3,1448.8 L434.3,1448.0 L438.3,1447.2 L442.2,1446.4 L446.2,1445.6 L450.1,1444.9 L454.1,1444.1 L458.1,1443.4 L462.1,1442.7 L466.0,1442.0 L470.0,1441.3 L474.0,1440.6 L478.0,1439.9 L482.0,1439.3 L485.9,1438.6 L489.9,1438.0 L493.9,1437.4 L497.9,1436.8 L501.9,1436.2 L505.9,1435.6 L509.9,1435.1 L513.9,1434.5 L517.9,1434.0 L521.9,1433.5 L525.9,1433.0 L529.9,1432.5 L533.9,1432.0 L537.9,1431.5 L541.9,1431.1 L546.0,1430.6 L550.0,1430.2 L554.0,1429.8 L558.0,1429.4 L562.0,1429.0 L566.0,1428.7 L570.1,1428.3 L574.1,1428.0 L578.1,1427.6 L582.1,1427.3 L586.2,1427.0 L590.2,1426.7 L594.2,1426.5 L598.3,1426.2 L602.3,1426.0 L606.3,1425.7 L610.4,1425.5 L614.4,1425.3 L618.5,1425.2 L622.5,1425.0 L626.6,1424.8 L630.6,1424.7 L634.6,1424.6 L638.7,1424.5 L642.7,1424.4 L646.8,1424.3 L650.8,1424.2 L654.9,1424.2 L658.9,1424.1 L663.0,1424.1 L667.0,1424.1 L671.1,1424.1 L675.2,1424.1 L679.2,1424.2 L683.3,1424.2 L687.3,1424.3 L691.4,1424.4" stroke="#5a80a0" stroke-opacity="0.42" stroke-width="1"/>
<path d="M156.5,1563.2 L160.3,1561.6 L164.0,1560.0 L167.7,1558.4 L171.4,1556.8 L175.2,1555.3 L178.9,1553.7 L182.7,1552.2 L186.4,1550.7 L190.2,1549.2 L193.9,1547.7 L197.7,1546.2 L201.5,1544.7 L205.3,1543.3 L209.0,1541.8 L212.8,1540.4 L216.6,1539.0 L220.4,1537.6 L224.2,1536.2 L228.0,1534.9 L231.8,1533.5 L235.6,1532.2 L239.4,1530.9 L243.2,1529.5 L247.1,1528.2 L250.9,1527.0 L254.7,1525.7 L258.5,1524.4 L262.4,1523.2 L266.2,1522.0 L270.1,1520.7 L273.9,1519.5 L277.8,1518.3 L281.6,1517.2 L285.5,1516.0 L289.3,1514.8 L293.2,1513.7 L297.1,1512.6 L300.9,1511.5 L304.8,1510.4 L308.7,1509.3 L312.6,1508.2 L316.4,1507.2 L320.3,1506.1 L324.2,1505.1 L328.1,1504.0 L332.0,1503.0 L335.9,1502.0 L339.8,1501.1 L343.7,1500.1 L347.6,1499.1 L351.6,1498.2 L355.5,1497.3 L359.4,1496.3 L363.3,1495.4 L367.2,1494.5 L371.2,1493.7 L375.1,1492.8 L379.0,1491.9 L383.0,1491.1 L386.9,1490.3 L390.8,1489.4 L394.8,1488.6 L398.7,1487.8 L402.7,1487.1 L406.6,1486.3 L410.6,1485.5 L414.5,1484.8 L418.5,1484.1 L422.5,1483.3 L426.4,1482.6 L430.4,1481.9 L434.4,1481.3 L438.3,1480.6 L442.3,1479.9 L446.3,1479.3 L450.2,1478.6 L454.2,1478.0 L458.2,1477.4 L462.2,1476.8 L466.2,1476.2 L470.1,1475.7 L474.1,1475.1 L478.1,1474.5 L482.1,1474.0 L486.1,1473.5 L490.1,1473.0 L494.1,1472.5 L498.1,1472.0 L502.1,1471.5 L506.1,1471.0 L510.1,1470.6 L514.1,1470.1 L518.1,1469.7 L522.1,1469.3 L526.1,1468.9 L530.1,1468.5 L534.1,1468.1 L538.2,1467.7 L542.2,1467.3 L546.2,1467.0 L550.2,1466.6 L554.2,1466.3 L558.2,1466.0 L562.3,1465.7 L566.3,1465.4 L570.3,1465.1 L574.3,1464.8 L578.3,1464.6 L582.4,1464.3 L586.4,1464.1 L590.4,1463.8 L594.4,1463.6 L598.5,1463.4 L602.5,1463.2 L606.5,1463.0 L610.6,1462.9 L614.6,1462.7 L618.6,1462.5 L622.6,1462.4 L626.7,1462.3 L630.7,1462.1 L634.7,1462.0 L638.8,1461.9 L642.8,1461.9 L646.8,1461.8 L650.9,1461.7 L654.9,1461.7 L658.9,1461.6 L663.0,1461.6 L667.0,1461.6 L671.0,1461.5 L675.1,1461.5 L679.1,1461.5 L683.2,1461.6 L687.2,1461.6 L691.2,1461.6 L695.3,1461.7 L699.3,1461.7 L703.3,1461.8 L707.4,1461.9 L711.4,1462.0 L715.4,1462.1 L719.5,1462.2 L723.5,1462.3 L727.5,1462.5 L731.6,1462.6 L735.6,1462.7 L739.6,1462.9 L743.6,1463.1 L747.7,1463.3 L751.7,1463.5 L755.7,1463.7 L759.8,1463.9 L763.8,1464.1 L767.8,1464.3 L771.8,1464.6 L775.9,1464.8 L779.9,1465.1 L783.9,1465.4 L787.9,1465.6 L792.0,1465.9 L796.0,1466.2 L800.0,1466.5 L804.0,1466.9" stroke="#6a6aa8" stroke-opacity="0.42" stroke-width="1"/>
<path d="M159.1,1568.3 L162.8,1566.8 L166.6,1565.2 L170.3,1563.7 L174.1,1562.2 L177.8,1560.7 L181.6,1559.2 L185.4,1557.7 L189.1,1556.2 L192.9,1554.8 L196.7,1553.3 L200.5,1551.9 L204.3,1550.5 L208.1,1549.1 L211.9,1547.7 L215.6,1546.3 L219.5,1545.0 L223.3,1543.6 L227.1,1542.3 L230.9,1540.9 L234.7,1539.6 L238.5,1538.3 L242.3,1537.0 L246.2,1535.8 L250.0,1534.5 L253.8,1533.2 L257.7,1532.0 L261.5,1530.8 L265.3,1529.6 L269.2,1528.4 L273.0,1527.2 L276.9,1526.0 L280.7,1524.8 L284.6,1523.7 L288.5,1522.6 L292.3,1521.4 L296.2,1520.3 L300.1,1519.2 L303.9,1518.1 L307.8,1517.1 L311.7,1516.0 L315.6,1515.0 L319.5,1513.9 L323.3,1512.9 L327.2,1511.9 L331.1,1510.9 L335.0,1509.9 L338.9,1508.9 L342.8,1508.0 L346.7,1507.0 L350.6,1506.1 L354.6,1505.2 L358.5,1504.3 L362.4,1503.4 L366.3,1502.5 L370.2,1501.6 L374.1,1500.8 L378.1,1499.9 L382.0,1499.1 L385.9,1498.3 L389.9,1497.4 L393.8,1496.6 L397.7,1495.9 L401.7,1495.1 L405.6,1494.3 L409.6,1493.6 L413.5,1492.8 L417.5,1492.1 L421.4,1491.4 L425.4,1490.7 L429.3,1490.0 L433.3,1489.4 L437.2,1488.7 L441.2,1488.1 L445.2,1487.4 L449.1,1486.8 L453.1,1486.2 L457.1,1485.6 L461.1,1485.0 L465.0,1484.4 L469.0,1483.9 L473.0,1483.3 L477.0,1482.8 L480.9,1482.3 L484.9,1481.7 L488.9,1481.2 L492.9,1480.8 L496.9,1480.3 L500.9,1479.8 L504.9,1479.4 L508.9,1478.9 L512.9,1478.5 L516.8,1478.1 L520.8,1477.7 L524.8,1477.3 L528.8,1476.9 L532.8,1476.6 L536.9,1476.2 L540.9,1475.9 L544.9,1475.5 L548.9,1475.2 L552.9,1474.9 L556.9,1474.6 L560.9,1474.3 L564.9,1474.1 L568.9,1473.8 L572.9,1473.6 L577.0,1473.3 L581.0,1473.1 L585.0,1472.9 L589.0,1472.7 L593.0,1472.5 L597.0,1472.3 L601.1,1472.1 L605.1,1472.0 L609.1,1471.8 L613.1,1471.7 L617.2,1471.6 L621.2,1471.5 L625.2,1471.3 L629.2,1471.2 L633.3,1471.2 L637.3,1471.1 L641.3,1471.0 L645.3,1471.0 L649.4,1470.9 L653.4,1470.9 L657.4,1470.8 L661.4,1470.8 L665.5,1470.8 L669.5,1470.8 L673.5,1470.8 L677.6,1470.9 L681.6,1470.9 L685.6,1470.9 L689.7,1471.0 L693.7,1471.0 L697.7,1471.1 L701.7,1471.2 L705.8,1471.3 L709.8,1471.3 L713.8,1471.4 L717.9,1471.6 L721.9,1471.7 L725.9,1471.8 L729.9,1471.9 L734.0,1472.1 L738.0,1472.2 L742.0,1472.4 L746.1,1472.6 L750.1,1472.7 L754.1,1472.9 L758.1,1473.1 L762.2,1473.3 L766.2,1473.5 L770.2,1473.7 L774.2,1474.0 L778.3,1474.2 L782.3,1474.4 L786.3,1474.7 L790.3,1474.9 L794.3,1475.2 L798.4,1475.4 L802.4,1475.7 L806.4,1476.0 L810.4,1476.3 L814.4,1476.6 L818.4,1476.9 L822.4,1477.2 L826.5,1477.5 L830.5,1477.8 L834.5,1478.1 L838.5,1478.5 L842.5,1478.8 L846.5,1479.2 L850.5,1479.5" stroke="#6a6aa8" stroke-opacity="0.42" stroke-width="1"/>
<path d="M161.5,1573.5 L165.3,1571.9 L169.1,1570.3 L172.8,1568.8 L176.6,1567.2 L180.4,1565.7 L184.2,1564.2 L188.0,1562.7 L191.7,1561.2 L195.5,1559.7 L199.3,1558.2 L203.1,1556.8 L206.9,1555.4 L210.8,1554.0 L214.6,1552.6 L218.4,1551.2 L222.2,1549.8 L226.0,1548.5 L229.9,1547.1 L233.7,1545.8 L237.5,1544.5 L241.4,1543.2 L245.2,1541.9 L249.0,1540.7 L252.9,1539.4 L256.7,1538.2 L260.6,1537.0 L264.5,1535.8 L268.3,1534.6 L272.2,1533.4 L276.1,1532.2 L279.9,1531.1 L283.8,1529.9 L287.7,1528.8 L291.6,1527.7 L295.4,1526.6 L299.3,1525.5 L303.2,1524.5 L307.1,1523.4 L311.0,1522.4 L314.9,1521.4 L318.8,1520.4 L322.7,1519.4 L326.6,1518.4 L330.5,1517.4 L334.5,1516.5 L338.4,1515.5 L342.3,1514.6 L346.2,1513.7 L350.1,1512.8 L354.1,1511.9 L358.0,1511.0 L361.9,1510.2 L365.9,1509.3 L369.8,1508.5 L373.8,1507.7 L377.7,1506.9 L381.6,1506.1 L385.6,1505.3 L389.5,1504.5 L393.5,1503.8 L397.5,1503.0 L401.4,1502.3 L405.4,1501.6 L409.3,1500.9 L413.3,1500.2 L417.3,1499.5 L421.2,1498.9 L425.2,1498.2 L429.2,1497.6 L433.2,1496.9 L437.1,1496.3 L441.1,1495.7 L445.1,1495.1 L449.1,1494.6 L453.1,1494.0 L457.0,1493.4 L461.0,1492.9 L465.0,1492.4 L469.0,1491.9 L473.0,1491.4 L477.0,1490.9 L481.0,1490.4 L485.0,1489.9 L489.0,1489.5 L493.0,1489.0 L497.0,1488.6 L501.0,1488.2 L505.0,1487.8 L509.0,1487.4 L513.0,1487.0 L517.1,1486.6 L521.1,1486.3 L525.1,1485.9 L529.1,1485.6 L533.1,1485.3 L537.1,1484.9 L541.1,1484.6 L545.2,1484.4 L549.2,1484.1 L553.2,1483.8 L557.2,1483.6 L561.3,1483.3 L565.3,1483.1 L569.3,1482.8 L573.3,1482.6 L577.4,1482.4 L581.4,1482.2 L585.4,1482.1 L589.5,1481.9 L593.5,1481.7 L597.5,1481.6 L601.6,1481.5 L605.6,1481.3 L609.6,1481.2 L613.7,1481.1 L617.7,1481.0 L621.7,1480.9 L625.8,1480.8 L629.8,1480.8 L633.8,1480.7 L637.9,1480.7 L641.9,1480.6 L646.0,1480.6 L650.0,1480.6 L654.0,1480.6 L658.1,1480.6 L662.1,1480.6 L666.2,1480.6 L670.2,1480.6 L674.2,1480.6 L678.3,1480.7 L682.3,1480.7 L686.4,1480.8 L690.4,1480.9 L694.5,1480.9 L698.5,1481.0 L702.5,1481.1 L706.6,1481.2 L710.6,1481.3 L714.7,1481.4 L718.7,1481.5 L722.8,1481.7 L726.8,1481.8 L730.8,1482.0 L734.9,1482.1 L738.9,1482.3 L743.0,1482.4 L747.0,1482.6 L751.0,1482.8 L755.1,1483.0 L759.1,1483.2 L763.1,1483.4 L767.2,1483.6 L771.2,1483.8 L775.3,1484.0 L779.3,1484.2 L783.3,1484.5 L787.4,1484.7 L791.4,1484.9 L795.4,1485.2 L799.5,1485.4 L803.5,1485.7 L807.5,1486.0 L811.6,1486.2 L815.6,1486.5 L819.6,1486.8 L823.6,1487.1 L827.7,1487.4 L831.7,1487.7 L835.7,1488.0 L839.7,1488.3 L843.8,1488.6 L847.8,1488.9 L851.8,1489.2 L855.8,1489.6 L859.8,1489.9 L863.9,1490.2 L867.9,1490.6 L871.9,1490.9 L875.9,1491.2 L879.9,1491.6 L883.9,1491.9 L887.9,1492.3 L891.9,1492.7 L895.9,1493.0 L899.9,1493.4" stroke="#6a6aa8" stroke-opacity="0.42" stroke-width="1"/>
<path d="M163.9,1578.4 L167.7,1576.8 L171.5,1575.3 L175.3,1573.7 L179.0,1572.2 L182.8,1570.7 L186.6,1569.2 L190.4,1567.7 L194.2,1566.3 L198.0,1564.8 L201.8,1563.4 L205.7,1562.0 L209.5,1560.6 L213.3,1559.2 L217.1,1557.8 L220.9,1556.5 L224.8,1555.1 L228.6,1553.8 L232.5,1552.5 L236.3,1551.2 L240.1,1549.9 L244.0,1548.6 L247.9,1547.4 L251.7,1546.2 L255.6,1544.9 L259.4,1543.7 L263.3,1542.6 L267.2,1541.4 L271.0,1540.2 L274.9,1539.1 L278.8,1537.9 L282.7,1536.8 L286.6,1535.7 L290.5,1534.6 L294.4,1533.6 L298.3,1532.5 L302.2,1531.5 L306.1,1530.4 L310.0,1529.4 L313.9,1528.4 L317.8,1527.4 L321.7,1526.5 L325.6,1525.5 L329.5,1524.6 L333.5,1523.6 L337.4,1522.7 L341.3,1521.8 L345.2,1520.9 L349.2,1520.1 L353.1,1519.2 L357.1,1518.4 L361.0,1517.5 L364.9,1516.7 L368.9,1515.9 L372.8,1515.1 L376.8,1514.3 L380.7,1513.6 L384.7,1512.8 L388.7,1512.1 L392.6,1511.4 L396.6,1510.7 L400.5,1510.0 L404.5,1509.3 L408.5,1508.6 L412.5,1508.0 L416.4,1507.3 L420.4,1506.7 L424.4,1506.1 L428.4,1505.5 L432.3,1504.9 L436.3,1504.3 L440.3,1503.8 L444.3,1503.2 L448.3,1502.7 L452.3,1502.1 L456.3,1501.6 L460.3,1501.1 L464.3,1500.7 L468.3,1500.2 L472.3,1499.7 L476.3,1499.3 L480.3,1498.8 L484.3,1498.4 L488.3,1498.0 L492.3,1497.6 L496.3,1497.2 L500.3,1496.9 L504.3,1496.5 L508.3,1496.2 L512.3,1495.8 L516.4,1495.5 L520.4,1495.2 L524.4,1494.9 L528.4,1494.6 L532.4,1494.3 L536.5,1494.1 L540.5,1493.8 L544.5,1493.6 L548.5,1493.4 L552.6,1493.2 L556.6,1493.0 L560.6,1492.8 L564.6,1492.6 L568.7,1492.4 L572.7,1492.3 L576.7,1492.1 L580.8,1492.0 L584.8,1491.9 L588.8,1491.8 L592.9,1491.7 L596.9,1491.6 L600.9,1491.5 L605.0,1491.5 L609.0,1491.4 L613.0,1491.3 L617.1,1491.3 L621.1,1491.3 L625.1,1491.3 L629.2,1491.3 L633.2,1491.3 L637.3,1491.3 L641.3,1491.3 L645.4,1491.3 L649.4,1491.3 L653.4,1491.4 L657.5,1491.4 L661.5,1491.5 L665.6,1491.5 L669.6,1491.6 L673.6,1491.7 L677.7,1491.8 L681.7,1491.9 L685.8,1492.0 L689.8,1492.1 L693.9,1492.2 L697.9,1492.3 L702.0,1492.4 L706.0,1492.5 L710.0,1492.7 L714.1,1492.8 L718.1,1493.0 L722.2,1493.1 L726.2,1493.3 L730.3,1493.4 L734.3,1493.6 L738.4,1493.7 L742.4,1493.9 L746.4,1494.1 L750.5,1494.3 L754.5,1494.5 L758.6,1494.6 L762.6,1494.8 L766.7,1495.0 L770.7,1495.2 L774.7,1495.4 L778.8,1495.6 L782.8,1495.8 L786.9,1496.0 L790.9,1496.2 L794.9,1496.4 L799.0,1496.6 L803.0,1496.9 L807.1,1497.1 L811.1,1497.3 L815.1,1497.5 L819.2,1497.7 L823.2,1497.9 L827.2,1498.1 L831.3,1498.4 L835.3,1498.6 L839.3,1498.8 L843.4,1499.0 L847.4,1499.2 L851.4,1499.4 L855.5,1499.6 L859.5,1499.9 L863.5,1500.1 L867.6,1500.3 L871.6,1500.5 L875.6,1500.7 L879.6,1500.9 L883.7,1501.1 L887.7,1501.3 L891.7,1501.5 L895.7,1501.7 L899.7,1501.9 L903.8,1502.1 L907.8,1502.3 L911.8,1502.4 L915.8,1502.6 L919.8,1502.8 L923.8,1503.0 L927.9,1503.1 L931.9,1503.3 L935.9,1503.5" stroke="#6a6aa8" stroke-opacity="0.42" stroke-width="1"/>
<path d="M166.4,1583.2 L170.2,1581.7 L174.0,1580.3 L177.8,1578.9 L181.6,1577.5 L185.4,1576.1 L189.2,1574.7 L193.0,1573.3 L196.8,1572.0 L200.6,1570.6 L204.5,1569.3 L208.3,1568.0 L212.1,1566.6 L215.9,1565.3 L219.8,1564.1 L223.6,1562.8 L227.5,1561.5 L231.3,1560.3 L235.1,1559.0 L239.0,1557.8 L242.9,1556.6 L246.7,1555.4 L250.6,1554.2 L254.4,1553.0 L258.3,1551.8 L262.2,1550.7 L266.0,1549.5 L269.9,1548.4 L273.8,1547.3 L277.7,1546.2 L281.6,1545.1 L285.5,1544.0 L289.3,1542.9 L293.2,1541.9 L297.1,1540.9 L301.0,1539.8 L304.9,1538.8 L308.8,1537.8 L312.7,1536.8 L316.7,1535.9 L320.6,1534.9 L324.5,1534.0 L328.4,1533.0 L332.3,1532.1 L336.3,1531.2 L340.2,1530.3 L344.1,1529.5 L348.0,1528.6 L352.0,1527.8 L355.9,1526.9 L359.8,1526.1 L363.8,1525.3 L367.7,1524.5 L371.7,1523.7 L375.6,1523.0 L379.6,1522.2 L383.5,1521.5 L387.5,1520.8 L391.4,1520.1 L395.4,1519.4 L399.4,1518.7 L403.3,1518.1 L407.3,1517.4 L411.3,1516.8 L415.2,1516.2 L419.2,1515.6 L423.2,1515.0 L427.2,1514.4 L431.1,1513.9 L435.1,1513.3 L439.1,1512.8 L443.1,1512.3 L447.1,1511.8 L451.0,1511.3 L455.0,1510.8 L459.0,1510.4 L463.0,1509.9 L467.0,1509.5 L471.0,1509.1 L475.0,1508.7 L479.0,1508.3 L483.0,1507.9 L487.0,1507.6 L491.0,1507.2 L495.0,1506.9 L499.0,1506.6 L503.0,1506.2 L507.0,1505.9 L511.0,1505.7 L515.0,1505.4 L519.0,1505.1 L523.1,1504.9 L527.1,1504.7 L531.1,1504.4 L535.1,1504.2 L539.1,1504.0 L543.1,1503.8 L547.1,1503.7 L551.2,1503.5 L555.2,1503.4 L559.2,1503.2 L563.2,1503.1 L567.2,1503.0 L571.3,1502.9 L575.3,1502.8 L579.3,1502.7 L583.3,1502.7 L587.4,1502.6 L591.4,1502.6 L595.4,1502.5 L599.4,1502.5 L603.5,1502.5 L607.5,1502.5 L611.5,1502.5 L615.6,1502.5 L619.6,1502.5 L623.6,1502.6 L627.6,1502.6 L631.7,1502.6 L635.7,1502.7 L639.7,1502.8 L643.8,1502.8 L647.8,1502.9 L651.8,1503.0 L655.9,1503.1 L659.9,1503.2 L663.9,1503.3 L668.0,1503.4 L672.0,1503.6 L676.0,1503.7 L680.1,1503.8 L684.1,1504.0 L688.1,1504.1 L692.2,1504.2 L696.2,1504.4 L700.2,1504.6 L704.3,1504.7 L708.3,1504.9 L712.3,1505.1 L716.4,1505.3 L720.4,1505.4 L724.4,1505.6 L728.5,1505.8 L732.5,1506.0 L736.5,1506.2 L740.6,1506.4 L744.6,1506.6 L748.6,1506.8 L752.7,1507.0 L756.7,1507.2 L760.7,1507.4 L764.8,1507.7 L768.8,1507.9 L772.8,1508.1 L776.9,1508.3 L780.9,1508.5 L784.9,1508.8 L789.0,1509.0 L793.0,1509.2 L797.0,1509.4 L801.0,1509.6 L805.1,1509.9 L809.1,1510.1 L813.1,1510.3 L817.2,1510.5 L821.2,1510.7 L825.2,1510.9 L829.2,1511.2 L833.3,1511.4 L837.3,1511.6 L841.3,1511.8 L845.3,1512.0 L849.3,1512.2 L853.4,1512.4 L857.4,1512.6 L861.4,1512.8 L865.4,1513.0 L869.4,1513.2 L873.5,1513.4 L877.5,1513.5 L881.5,1513.7 L885.5,1513.9 L889.5,1514.1 L893.5,1514.2 L897.5,1514.4 L901.5,1514.5 L905.6,1514.7 L909.6,1514.8 L913.6,1515.0 L917.6,1515.1 L921.6,1515.2 L925.6,1515.3 L929.6,1515.4" stroke="#6a6aa8" stroke-opacity="0.42" stroke-width="1"/>
<path d="M172.2,1589.6 L176.0,1588.2 L179.9,1586.9 L183.7,1585.5 L187.5,1584.2 L191.3,1582.9 L195.1,1581.5 L199.0,1580.2 L202.8,1578.9 L206.6,1577.6 L210.4,1576.4 L214.3,1575.1 L218.1,1573.8 L222.0,1572.6 L225.8,1571.3 L229.7,1570.1 L233.5,1568.9 L237.4,1567.7 L241.3,1566.5 L245.1,1565.3 L249.0,1564.1 L252.9,1563.0 L256.7,1561.8 L260.6,1560.7 L264.5,1559.5 L268.4,1558.4 L272.3,1557.3 L276.2,1556.2 L280.1,1555.1 L284.0,1554.0 L287.9,1553.0 L291.8,1551.9 L295.7,1550.9 L299.6,1549.9 L303.5,1548.9 L307.4,1547.9 L311.3,1546.9 L315.2,1545.9 L319.2,1545.0 L323.1,1544.0 L327.0,1543.1 L330.9,1542.2 L334.9,1541.3 L338.8,1540.4 L342.7,1539.6 L346.7,1538.7 L350.6,1537.9 L354.6,1537.1 L358.5,1536.3 L362.5,1535.5 L366.4,1534.7 L370.4,1534.0 L374.3,1533.2 L378.3,1532.5 L382.3,1531.8 L386.2,1531.1 L390.2,1530.4 L394.2,1529.8 L398.1,1529.1 L402.1,1528.5 L406.1,1527.9 L410.1,1527.3 L414.1,1526.8 L418.1,1526.2 L422.0,1525.7 L426.0,1525.2 L430.0,1524.7 L434.0,1524.2 L438.0,1523.7 L442.0,1523.2 L446.0,1522.8 L450.0,1522.4 L454.0,1522.0 L458.0,1521.6 L462.0,1521.2 L466.0,1520.8 L470.0,1520.5 L474.0,1520.2 L478.1,1519.8 L482.1,1519.5 L486.1,1519.2 L490.1,1519.0 L494.1,1518.7 L498.1,1518.5 L502.2,1518.2 L506.2,1518.0 L510.2,1517.8 L514.2,1517.6 L518.2,1517.4 L522.3,1517.2 L526.3,1517.1 L530.3,1516.9 L534.3,1516.8 L538.4,1516.6 L542.4,1516.5 L546.4,1516.4 L550.5,1516.3 L554.5,1516.2 L558.5,1516.2 L562.5,1516.1 L566.6,1516.0 L570.6,1516.0 L574.6,1516.0 L578.7,1515.9 L582.7,1515.9 L586.7,1515.9 L590.8,1515.9 L594.8,1516.0 L598.8,1516.0 L602.9,1516.0 L606.9,1516.1 L610.9,1516.1 L615.0,1516.2 L619.0,1516.2 L623.0,1516.3 L627.1,1516.4 L631.1,1516.5 L635.2,1516.6 L639.2,1516.7 L643.2,1516.8 L647.3,1516.9 L651.3,1517.0 L655.3,1517.2 L659.4,1517.3 L663.4,1517.4 L667.4,1517.6 L671.5,1517.7 L675.5,1517.9 L679.6,1518.1 L683.6,1518.2 L687.6,1518.4 L691.7,1518.6 L695.7,1518.8 L699.7,1519.0 L703.8,1519.2 L707.8,1519.4 L711.8,1519.6 L715.9,1519.8 L719.9,1520.0 L723.9,1520.2 L728.0,1520.5 L732.0,1520.7 L736.1,1520.9 L740.1,1521.1 L744.1,1521.4 L748.2,1521.6 L752.2,1521.9 L756.2,1522.1 L760.3,1522.3 L764.3,1522.6 L768.3,1522.8 L772.4,1523.1 L776.4,1523.3 L780.4,1523.6 L784.4,1523.8 L788.5,1524.1 L792.5,1524.4 L796.5,1524.6 L800.6,1524.9 L804.6,1525.1 L808.6,1525.4 L812.6,1525.6 L816.7,1525.9 L820.7,1526.2 L824.7,1526.4 L828.8,1526.7 L832.8,1526.9 L836.8,1527.2 L840.8,1527.5 L844.8,1527.7 L848.9,1528.0 L852.9,1528.2 L856.9,1528.5 L860.9,1528.7 L865.0,1528.9 L869.0,1529.2 L873.0,1529.4 L877.0,1529.7 L881.0,1529.9 L885.0,1530.1 L889.1,1530.4 L893.1,1530.6 L897.1,1530.8 L901.1,1531.0 L905.1,1531.2 L909.1,1531.5 L913.1,1531.7" stroke="#6a6aa8" stroke-opacity="0.42" stroke-width="1"/>
<path d="M179.6,1596.6 L183.4,1595.1 L187.2,1593.7 L191.1,1592.3 L194.9,1590.9 L198.8,1589.6 L202.6,1588.2 L206.4,1586.9 L210.3,1585.6 L214.1,1584.3 L218.0,1583.0 L221.9,1581.8 L225.7,1580.6 L229.6,1579.3 L233.5,1578.1 L237.3,1577.0 L241.2,1575.8 L245.1,1574.7 L249.0,1573.5 L252.9,1572.4 L256.8,1571.3 L260.6,1570.2 L264.5,1569.2 L268.4,1568.1 L272.3,1567.1 L276.2,1566.1 L280.2,1565.1 L284.1,1564.1 L288.0,1563.2 L291.9,1562.2 L295.8,1561.3 L299.7,1560.4 L303.7,1559.5 L307.6,1558.6 L311.5,1557.8 L315.4,1556.9 L319.4,1556.1 L323.3,1555.3 L327.3,1554.5 L331.2,1553.7 L335.1,1552.9 L339.1,1552.2 L343.0,1551.4 L347.0,1550.7 L350.9,1550.0 L354.9,1549.3 L358.9,1548.6 L362.8,1548.0 L366.8,1547.3 L370.7,1546.7 L374.7,1546.1 L378.7,1545.5 L382.6,1544.9 L386.6,1544.3 L390.6,1543.7 L394.6,1543.2 L398.5,1542.7 L402.5,1542.1 L406.5,1541.6 L410.5,1541.2 L414.5,1540.7 L418.5,1540.2 L422.4,1539.8 L426.4,1539.3 L430.4,1538.9 L434.4,1538.5 L438.4,1538.1 L442.4,1537.7 L446.4,1537.3 L450.4,1537.0 L454.4,1536.6 L458.4,1536.3 L462.4,1536.0 L466.4,1535.7 L470.4,1535.4 L474.4,1535.1 L478.4,1534.8 L482.4,1534.6 L486.5,1534.3 L490.5,1534.1 L494.5,1533.9 L498.5,1533.7 L502.5,1533.5 L506.5,1533.3 L510.5,1533.1 L514.6,1533.0 L518.6,1532.8 L522.6,1532.7 L526.6,1532.6 L530.6,1532.5 L534.7,1532.3 L538.7,1532.3 L542.7,1532.2 L546.7,1532.1 L550.7,1532.0 L554.8,1532.0 L558.8,1532.0 L562.8,1531.9 L566.8,1531.9 L570.9,1531.9 L574.9,1531.9 L578.9,1531.9 L582.9,1531.9 L587.0,1532.0 L591.0,1532.0 L595.0,1532.1 L599.1,1532.1 L603.1,1532.2 L607.1,1532.3 L611.1,1532.4 L615.2,1532.5 L619.2,1532.6 L623.2,1532.7 L627.3,1532.8 L631.3,1532.9 L635.3,1533.0 L639.3,1533.2 L643.4,1533.3 L647.4,1533.5 L651.4,1533.7 L655.5,1533.8 L659.5,1534.0 L663.5,1534.2 L667.6,1534.4 L671.6,1534.6 L675.6,1534.8 L679.6,1535.0 L683.7,1535.2 L687.7,1535.4 L691.7,1535.6 L695.8,1535.8 L699.8,1536.1 L703.8,1536.3 L707.8,1536.5 L711.9,1536.8 L715.9,1537.0 L719.9,1537.3 L724.0,1537.5 L728.0,1537.8 L732.0,1538.0 L736.0,1538.3 L740.1,1538.6 L744.1,1538.8 L748.1,1539.1 L752.1,1539.4 L756.2,1539.7 L760.2,1539.9 L764.2,1540.2 L768.2,1540.5 L772.2,1540.8 L776.3,1541.1 L780.3,1541.4 L784.3,1541.6 L788.3,1541.9 L792.3,1542.2 L796.4,1542.5 L800.4,1542.8 L804.4,1543.1 L808.4,1543.4 L812.4,1543.7 L816.4,1543.9 L820.5,1544.2 L824.5,1544.5 L828.5,1544.8 L832.5,1545.1 L836.5,1545.4 L840.5,1545.7 L844.5,1545.9 L848.5,1546.2 L852.5,1546.5 L856.5,1546.8 L860.5,1547.0 L864.5,1547.3 L868.6,1547.6 L872.6,1547.8 L876.6,1548.1 L880.6,1548.3 L884.6,1548.6 L888.6,1548.8 L892.5,1549.1 L896.5,1549.3" stroke="#6a6aa8" stroke-opacity="0.42" stroke-width="1"/>
<path d="M194.4,1604.6 L198.2,1603.2 L202.1,1601.9 L206.0,1600.5 L209.9,1599.3 L213.7,1598.0 L217.6,1596.7 L221.5,1595.5 L225.4,1594.3 L229.3,1593.1 L233.2,1591.9 L237.1,1590.8 L241.0,1589.6 L244.9,1588.5 L248.8,1587.4 L252.7,1586.4 L256.6,1585.3 L260.5,1584.3 L264.4,1583.3 L268.3,1582.3 L272.2,1581.3 L276.1,1580.4 L280.1,1579.4 L284.0,1578.5 L287.9,1577.6 L291.9,1576.7 L295.8,1575.9 L299.7,1575.0 L303.7,1574.2 L307.6,1573.4 L311.5,1572.6 L315.5,1571.9 L319.4,1571.1 L323.4,1570.4 L327.3,1569.7 L331.3,1568.9 L335.2,1568.3 L339.2,1567.6 L343.2,1566.9 L347.1,1566.3 L351.1,1565.7 L355.0,1565.1 L359.0,1564.5 L363.0,1563.9 L367.0,1563.4 L370.9,1562.8 L374.9,1562.3 L378.9,1561.8 L382.9,1561.3 L386.8,1560.8 L390.8,1560.4 L394.8,1559.9 L398.8,1559.5 L402.8,1559.1 L406.8,1558.7 L410.7,1558.3 L414.7,1557.9 L418.7,1557.5 L422.7,1557.2 L426.7,1556.8 L430.7,1556.5 L434.7,1556.2 L438.7,1555.9 L442.7,1555.6 L446.7,1555.4 L450.7,1555.1 L454.7,1554.9 L458.7,1554.6 L462.7,1554.4 L466.7,1554.2 L470.8,1554.0 L474.8,1553.8 L478.8,1553.6 L482.8,1553.5 L486.8,1553.3 L490.8,1553.2 L494.8,1553.0 L498.9,1552.9 L502.9,1552.8 L506.9,1552.7 L510.9,1552.6 L514.9,1552.6 L519.0,1552.5 L523.0,1552.4 L527.0,1552.4 L531.0,1552.4 L535.0,1552.3 L539.1,1552.3 L543.1,1552.3 L547.1,1552.3 L551.2,1552.3 L555.2,1552.4 L559.2,1552.4 L563.2,1552.4 L567.3,1552.5 L571.3,1552.5 L575.3,1552.6 L579.4,1552.7 L583.4,1552.7 L587.4,1552.8 L591.4,1552.9 L595.5,1553.0 L599.5,1553.1 L603.5,1553.2 L607.6,1553.4 L611.6,1553.5 L615.6,1553.6 L619.7,1553.8 L623.7,1553.9 L627.7,1554.1 L631.8,1554.2 L635.8,1554.4 L639.8,1554.6 L643.9,1554.8 L647.9,1554.9 L651.9,1555.1 L656.0,1555.3 L660.0,1555.5 L664.0,1555.7 L668.1,1555.9 L672.1,1556.2 L676.1,1556.4 L680.1,1556.6 L684.2,1556.8 L688.2,1557.1 L692.2,1557.3 L696.3,1557.6 L700.3,1557.8 L704.3,1558.0 L708.4,1558.3 L712.4,1558.6 L716.4,1558.8 L720.4,1559.1 L724.5,1559.3 L728.5,1559.6 L732.5,1559.9 L736.5,1560.1 L740.6,1560.4 L744.6,1560.7 L748.6,1561.0 L752.6,1561.2 L756.6,1561.5 L760.7,1561.8 L764.7,1562.1 L768.7,1562.4 L772.7,1562.7 L776.7,1563.0 L780.7,1563.2 L784.7,1563.5 L788.8,1563.8 L792.8,1564.1 L796.8,1564.4 L800.8,1564.7 L804.8,1565.0 L808.8,1565.3 L812.8,1565.6 L816.8,1565.9 L820.8,1566.1 L824.8,1566.4 L828.8,1566.7 L832.8,1567.0 L836.8,1567.3 L840.8,1567.6 L844.8,1567.9 L848.8,1568.1 L852.8,1568.4 L856.8,1568.7 L860.7,1569.0 L864.7,1569.2 L868.7,1569.5 L872.7,1569.8 L876.7,1570.0" stroke="#6a6aa8" stroke-opacity="0.42" stroke-width="1"/>
<path d="M220.8,1613.9 L224.7,1612.9 L228.7,1612.0 L232.6,1611.0 L236.6,1610.1 L240.5,1609.2 L244.5,1608.3 L248.5,1607.5 L252.4,1606.6 L256.4,1605.8 L260.3,1605.0 L264.3,1604.2 L268.3,1603.4 L272.2,1602.6 L276.2,1601.8 L280.2,1601.1 L284.2,1600.4 L288.1,1599.7 L292.1,1599.0 L296.1,1598.3 L300.1,1597.6 L304.1,1597.0 L308.0,1596.3 L312.0,1595.7 L316.0,1595.1 L320.0,1594.5 L324.0,1594.0 L328.0,1593.4 L332.0,1592.8 L336.0,1592.3 L340.0,1591.8 L344.0,1591.3 L348.0,1590.8 L352.0,1590.3 L356.0,1589.9 L360.0,1589.4 L364.0,1589.0 L368.0,1588.5 L372.0,1588.1 L376.0,1587.7 L380.0,1587.4 L384.0,1587.0 L388.0,1586.6 L392.0,1586.3 L396.0,1585.9 L400.1,1585.6 L404.1,1585.3 L408.1,1585.0 L412.1,1584.7 L416.1,1584.5 L420.1,1584.2 L424.2,1583.9 L428.2,1583.7 L432.2,1583.5 L436.2,1583.3 L440.2,1583.1 L444.3,1582.9 L448.3,1582.7 L452.3,1582.5 L456.3,1582.3 L460.4,1582.2 L464.4,1582.1 L468.4,1581.9 L472.5,1581.8 L476.5,1581.7 L480.5,1581.6 L484.5,1581.5 L488.6,1581.4 L492.6,1581.4 L496.6,1581.3 L500.7,1581.2 L504.7,1581.2 L508.7,1581.2 L512.8,1581.1 L516.8,1581.1 L520.8,1581.1 L524.9,1581.1 L528.9,1581.1 L532.9,1581.2 L537.0,1581.2 L541.0,1581.2 L545.0,1581.3 L549.1,1581.3 L553.1,1581.4 L557.2,1581.5 L561.2,1581.5 L565.2,1581.6 L569.3,1581.7 L573.3,1581.8 L577.3,1581.9 L581.4,1582.0 L585.4,1582.1 L589.5,1582.3 L593.5,1582.4 L597.5,1582.5 L601.6,1582.7 L605.6,1582.9 L609.6,1583.0 L613.7,1583.2 L617.7,1583.4 L621.8,1583.5 L625.8,1583.7 L629.8,1583.9 L633.9,1584.1 L637.9,1584.3 L641.9,1584.5 L646.0,1584.7 L650.0,1584.9 L654.1,1585.2 L658.1,1585.4 L662.1,1585.6 L666.2,1585.9 L670.2,1586.1 L674.2,1586.4 L678.3,1586.6 L682.3,1586.9 L686.3,1587.1 L690.4,1587.4 L694.4,1587.6 L698.4,1587.9 L702.4,1588.2 L706.5,1588.5 L710.5,1588.8 L714.5,1589.0 L718.6,1589.3 L722.6,1589.6 L726.6,1589.9 L730.6,1590.2 L734.7,1590.5 L738.7,1590.8 L742.7,1591.1 L746.7,1591.4 L750.8,1591.7 L754.8,1592.1 L758.8,1592.4 L762.8,1592.7 L766.8,1593.0 L770.8,1593.3 L774.9,1593.7 L778.9,1594.0 L782.9,1594.3 L786.9,1594.6 L790.9,1595.0 L794.9,1595.3 L798.9,1595.6 L802.9,1595.9 L807.0,1596.3 L811.0,1596.6 L815.0,1596.9 L819.0,1597.3 L823.0,1597.6 L827.0,1597.9 L831.0,1598.3 L835.0,1598.6 L839.0,1598.9 L843.0,1599.3 L847.0,1599.6" stroke="#6a6aa8" stroke-opacity="0.42" stroke-width="1"/>
<path d="M296.6,1640.9 L300.6,1640.5 L304.6,1640.1 L308.6,1639.6 L312.6,1639.2 L316.6,1638.8 L320.6,1638.5 L324.6,1638.1 L328.7,1637.7 L332.7,1637.4 L336.7,1637.1 L340.7,1636.7 L344.7,1636.4 L348.8,1636.1 L352.8,1635.8 L356.8,1635.6 L360.8,1635.3 L364.8,1635.0 L368.9,1634.8 L372.9,1634.5 L376.9,1634.3 L380.9,1634.1 L385.0,1633.9 L389.0,1633.7 L393.0,1633.5 L397.0,1633.4 L401.1,1633.2 L405.1,1633.0 L409.1,1632.9 L413.2,1632.8 L417.2,1632.7 L421.2,1632.5 L425.3,1632.4 L429.3,1632.3 L433.3,1632.3 L437.4,1632.2 L441.4,1632.1 L445.4,1632.1 L449.5,1632.0 L453.5,1632.0 L457.5,1632.0 L461.6,1631.9 L465.6,1631.9 L469.6,1631.9 L473.7,1631.9 L477.7,1631.9 L481.8,1632.0 L485.8,1632.0 L489.8,1632.0 L493.9,1632.1 L497.9,1632.1 L501.9,1632.2 L506.0,1632.3 L510.0,1632.3 L514.1,1632.4 L518.1,1632.5 L522.1,1632.6 L526.2,1632.7 L530.2,1632.9 L534.2,1633.0 L538.3,1633.1 L542.3,1633.2 L546.4,1633.4 L550.4,1633.5 L554.4,1633.7 L558.5,1633.9 L562.5,1634.0 L566.6,1634.2 L570.6,1634.4 L574.6,1634.6 L578.7,1634.8 L582.7,1635.0 L586.7,1635.2 L590.8,1635.4 L594.8,1635.6 L598.8,1635.8 L602.9,1636.1 L606.9,1636.3 L610.9,1636.5 L615.0,1636.8 L619.0,1637.0 L623.0,1637.3 L627.1,1637.5 L631.1,1637.8 L635.1,1638.1 L639.2,1638.4 L643.2,1638.6 L647.2,1638.9 L651.3,1639.2 L655.3,1639.5 L659.3,1639.8 L663.3,1640.1 L667.4,1640.4 L671.4,1640.7 L675.4,1641.0 L679.4,1641.3 L683.5,1641.7 L687.5,1642.0 L691.5,1642.3 L695.5,1642.6 L699.6,1643.0 L703.6,1643.3 L707.6,1643.7 L711.6,1644.0 L715.6,1644.4 L719.6,1644.7 L723.7,1645.1 L727.7,1645.4 L731.7,1645.8 L735.7,1646.1 L739.7,1646.5 L743.7,1646.9 L747.7,1647.2 L751.7,1647.6 L755.7,1648.0 L759.7,1648.3 L763.8,1648.7 L767.8,1649.1 L771.8,1649.5 L775.8,1649.9 L779.8,1650.2 L783.8,1650.6 L787.8,1651.0" stroke="#6a6aa8" stroke-opacity="0.42" stroke-width="1"/>
<path d="M288.0,1318.3 L288.9,1322.0 L289.8,1325.8 L290.8,1329.6 L291.8,1333.4 L292.9,1337.3 L294.1,1341.1 L295.3,1345.1 L296.5,1349.0 L297.8,1352.9 L299.2,1356.8 L300.7,1360.7 L302.2,1364.6 L303.8,1368.5 L305.4,1372.4 L307.2,1376.2 L309.0,1380.0 L310.8,1383.7 L312.8,1387.4 L314.8,1391.0 L316.9,1394.6 L319.1,1398.1 L321.4,1401.5 L323.7,1404.8 L326.2,1408.1 L328.7,1411.2 L331.3,1414.2 L334.1,1417.2 L336.9,1420.0 L339.8,1422.7 L342.8,1425.3 L345.8,1427.7 L349.0,1430.0 L352.3,1432.1 L355.7,1434.1 L359.2,1436.0 L362.8,1437.7 L366.4,1439.3 L370.1,1440.7 L373.8,1442.0 L377.7,1443.1 L381.5,1444.2 L385.4,1445.1 L389.4,1445.8 L393.3,1446.4 L397.3,1446.9 L401.3,1447.3 L405.4,1447.5 L409.4,1447.6 L413.4,1447.6 L417.4,1447.4 L421.4,1447.2 L425.4,1446.8 L429.4,1446.3 L433.3,1445.7 L437.2,1445.0 L441.2,1444.1 L445.1,1443.2 L449.0,1442.2 L452.8,1441.1 L456.7,1439.8 L460.5,1438.5 L464.3,1437.1 L468.1,1435.7 L471.9,1434.1 L475.7,1432.5 L479.4,1430.7 L483.1,1429.0 L486.8,1427.1 L490.4,1425.2 L494.1,1423.2 L497.7,1421.1 L501.3,1419.0 L504.8,1416.9 L508.3,1414.7 L511.8,1412.4 L515.3,1410.1 L518.7,1407.8 L522.1,1405.4 L525.5,1403.0 L528.8,1400.5 L532.1,1398.0 L535.4,1395.5 L538.6,1393.0 L541.8,1390.4 L545.0,1387.9 L548.1,1385.3 L551.2,1382.7 L554.3,1380.1 L557.3,1377.5 L560.2,1374.8 L563.2,1372.2 L566.1,1369.6 L568.9,1367.0 L571.7,1364.4 L574.5,1361.8 L577.2,1359.3 L579.9,1356.7" stroke="#1d2440" stroke-opacity="0.85" stroke-width="0.9"/>
<path d="M221.2,1342.5 L222.4,1346.3 L223.6,1350.0 L224.7,1353.8 L225.8,1357.6 L226.8,1361.4 L227.8,1365.3 L228.8,1369.2 L229.7,1373.0 L230.7,1377.0 L231.5,1380.9 L232.4,1384.8 L233.3,1388.8 L234.2,1392.8 L235.0,1396.7 L235.9,1400.7 L236.7,1404.7 L237.6,1408.7 L238.4,1412.7 L239.3,1416.7 L240.2,1420.7 L241.2,1424.7 L242.1,1428.7 L243.1,1432.7 L244.1,1436.7 L245.2,1440.7 L246.3,1444.7 L247.4,1448.6 L248.6,1452.6 L249.9,1456.5 L251.2,1460.4 L252.6,1464.3 L254.0,1468.2 L255.5,1472.0 L257.1,1475.8 L258.8,1479.5 L260.6,1483.2 L262.5,1486.8 L264.5,1490.3 L266.6,1493.6 L268.8,1496.9 L271.1,1500.0 L273.6,1503.1 L276.2,1505.9 L278.9,1508.6 L281.8,1511.2 L284.8,1513.6 L287.9,1515.9 L291.2,1518.0 L294.5,1520.0 L298.0,1521.8 L301.5,1523.6 L305.1,1525.2 L308.8,1526.7 L312.6,1528.0 L316.4,1529.3 L320.3,1530.4 L324.3,1531.4 L328.3,1532.4 L332.3,1533.2 L336.4,1533.9 L340.4,1534.5 L344.5,1535.1 L348.7,1535.5 L352.8,1535.9 L356.9,1536.2 L361.0,1536.4 L365.1,1536.6 L369.2,1536.7 L373.3,1536.7 L377.4,1536.7 L381.4,1536.6 L385.5,1536.4 L389.6,1536.2 L393.6,1536.0 L397.7,1535.8 L401.8,1535.5 L405.8,1535.1 L409.8,1534.8 L413.9,1534.4 L417.9,1534.1 L422.0,1533.7 L426.0,1533.2 L430.0,1532.8 L434.0,1532.3 L438.0,1531.8 L442.0,1531.3 L446.0,1530.8 L450.0,1530.3 L454.0,1529.7 L458.0,1529.1 L462.0,1528.5 L466.0,1527.9 L470.0,1527.3 L474.0,1526.6 L477.9,1525.9 L481.9,1525.2 L485.9,1524.5 L489.8,1523.7 L493.8,1522.9 L497.7,1522.1 L501.7,1521.3 L505.6,1520.5 L509.5,1519.6 L513.5,1518.7 L517.4,1517.8 L521.3,1516.9 L525.2,1516.0 L529.1,1515.0 L533.1,1514.0 L537.0,1513.0 L540.9,1511.9 L544.8,1510.9 L548.7,1509.8 L552.5,1508.6 L556.4,1507.5 L560.3,1506.3 L564.2,1505.2 L568.1,1503.9 L571.9,1502.7 L575.8,1501.5 L579.7,1500.2 L583.5,1498.9 L587.4,1497.5 L591.2,1496.2 L595.0,1494.8 L598.8,1493.3 L602.6,1491.8 L606.4,1490.3 L610.2,1488.8 L613.9,1487.2 L617.6,1485.5 L621.3,1483.8 L624.9,1482.1 L628.5,1480.2 L632.1,1478.4 L635.6,1476.4 L639.1,1474.5 L642.5,1472.4 L645.9,1470.3 L649.2,1468.1 L652.5,1465.8 L655.7,1463.5 L658.9,1461.0 L662.0,1458.5 L665.0,1455.9 L668.0,1453.3 L670.9,1450.5 L673.8,1447.6 L676.5,1444.7 L679.2,1441.7 L681.9,1438.5 L684.4,1435.3 L686.8,1431.9 L689.2,1428.5 L691.5,1424.9 L693.7,1421.3" stroke="#1d2440" stroke-opacity="0.85" stroke-width="0.9"/>
<path d="M175.1,1359.1 L176.3,1362.8 L177.4,1366.5 L178.4,1370.3 L179.4,1374.0 L180.3,1377.9 L181.1,1381.7 L181.9,1385.6 L182.7,1389.5 L183.4,1393.4 L184.0,1397.4 L184.6,1401.3 L185.2,1405.3 L185.8,1409.3 L186.4,1413.4 L186.9,1417.4 L187.5,1421.5 L188.0,1425.5 L188.5,1429.6 L189.1,1433.7 L189.6,1437.7 L190.2,1441.8 L190.8,1445.9 L191.5,1450.0 L192.1,1454.0 L192.8,1458.1 L193.6,1462.1 L194.4,1466.2 L195.2,1470.2 L196.1,1474.2 L197.1,1478.2 L198.1,1482.2 L199.2,1486.1 L200.4,1490.1 L201.7,1494.0 L203.1,1497.8 L204.5,1501.7 L206.1,1505.5 L207.7,1509.2 L209.5,1512.9 L211.3,1516.5 L213.3,1520.1 L215.3,1523.5 L217.4,1526.9 L219.7,1530.1 L222.0,1533.3 L224.5,1536.3 L227.1,1539.2 L229.7,1542.0 L232.5,1544.7 L235.4,1547.2 L238.4,1549.5 L241.5,1551.7 L244.7,1553.9 L248.0,1555.8 L251.4,1557.7 L254.8,1559.5 L258.3,1561.1 L261.9,1562.6 L265.6,1564.1 L269.3,1565.4 L273.1,1566.6 L276.9,1567.8 L280.8,1568.9 L284.8,1569.8 L288.8,1570.8 L292.8,1571.6 L296.8,1572.3 L300.9,1573.0 L305.0,1573.7 L309.1,1574.3 L313.3,1574.8 L317.4,1575.3 L321.6,1575.7 L325.8,1576.1 L329.9,1576.4 L334.1,1576.7 L338.2,1577.0 L342.3,1577.3 L346.5,1577.5 L350.6,1577.7 L354.7,1577.9 L358.7,1578.1 L362.8,1578.2 L366.9,1578.3 L370.9,1578.4 L375.0,1578.5 L379.0,1578.6 L383.0,1578.6 L387.0,1578.7 L391.0,1578.7 L395.1,1578.7 L399.1,1578.6 L403.1,1578.6 L407.0,1578.5 L411.0,1578.5 L415.0,1578.4 L419.0,1578.3 L423.0,1578.2 L427.0,1578.1 L431.0,1578.0 L434.9,1577.8 L438.9,1577.7 L442.9,1577.5 L446.9,1577.4 L450.9,1577.2 L454.9,1577.1 L458.9,1576.9 L462.9,1576.7 L466.9,1576.5 L470.9,1576.3 L474.9,1576.1 L478.9,1575.9 L482.9,1575.7 L487.0,1575.4 L491.0,1575.2 L495.0,1574.9 L499.0,1574.7 L503.0,1574.4 L507.1,1574.1 L511.1,1573.8 L515.1,1573.5 L519.1,1573.1 L523.1,1572.8 L527.2,1572.5 L531.2,1572.1 L535.2,1571.7 L539.2,1571.3 L543.2,1570.9 L547.3,1570.5 L551.3,1570.1 L555.3,1569.6 L559.3,1569.1 L563.3,1568.7 L567.3,1568.2 L571.3,1567.6 L575.3,1567.1 L579.3,1566.6 L583.3,1566.0 L587.3,1565.4 L591.3,1564.8 L595.3,1564.2 L599.3,1563.5 L603.3,1562.9 L607.3,1562.2 L611.3,1561.5 L615.2,1560.8 L619.2,1560.0 L623.2,1559.2 L627.1,1558.5 L631.1,1557.7 L635.0,1556.8 L639.0,1556.0 L642.9,1555.1 L646.9,1554.2 L650.8,1553.3 L654.7,1552.3 L658.6,1551.3 L662.5,1550.3 L666.5,1549.3 L670.4,1548.3 L674.2,1547.2 L678.1,1546.1 L682.0,1545.0 L685.9,1543.8 L689.7,1542.6 L693.6,1541.4 L697.5,1540.2 L701.3,1538.9 L705.1,1537.6 L708.9,1536.3 L712.8,1535.0 L716.5,1533.6 L720.3,1532.1 L724.1,1530.6 L727.8,1529.1 L731.5,1527.5 L735.2,1525.9 L738.8,1524.3 L742.5,1522.5 L746.1,1520.8 L749.6,1518.9 L753.1,1517.0 L756.6,1515.1 L760.1,1513.1 L763.5,1511.0 L766.9,1508.9 L770.2,1506.7 L773.5,1504.4 L776.7,1502.0 L779.9,1499.6 L783.0,1497.1 L786.1,1494.5 L789.1,1491.9 L792.0,1489.1 L795.0,1486.3 L797.8,1483.3 L800.6,1480.3 L803.3,1477.2 L805.9,1474.0 L808.5,1470.7 L811.0,1467.3" stroke="#1d2440" stroke-opacity="0.85" stroke-width="0.9"/>
<path d="M140.1,1371.4 L141.1,1375.3 L142.1,1379.2 L142.9,1383.2 L143.8,1387.1 L144.5,1391.1 L145.2,1395.0 L145.9,1399.0 L146.5,1402.9 L147.1,1406.9 L147.6,1410.8 L148.1,1414.8 L148.6,1418.8 L149.0,1422.7 L149.5,1426.7 L149.9,1430.7 L150.3,1434.7 L150.7,1438.6 L151.0,1442.6 L151.4,1446.6 L151.8,1450.6 L152.2,1454.6 L152.5,1458.6 L152.9,1462.6 L153.4,1466.6 L153.8,1470.6 L154.3,1474.6 L154.8,1478.6 L155.3,1482.7 L155.8,1486.7 L156.4,1490.7 L157.1,1494.7 L157.8,1498.8 L158.5,1502.8 L159.3,1506.8 L160.2,1510.9 L161.1,1514.9 L162.1,1519.0 L163.1,1523.0 L164.3,1527.0 L165.5,1530.9 L166.8,1534.8 L168.2,1538.7 L169.7,1542.5 L171.2,1546.3 L172.9,1549.9 L174.7,1553.5 L176.6,1557.0 L178.7,1560.3 L180.8,1563.6 L183.1,1566.7 L185.5,1569.7 L188.1,1572.6 L190.8,1575.3 L193.6,1577.9 L196.5,1580.3 L199.6,1582.5 L202.8,1584.6 L206.1,1586.6 L209.5,1588.4 L213.0,1590.0 L216.5,1591.5 L220.2,1592.9 L224.0,1594.2 L227.8,1595.3 L231.7,1596.3 L235.6,1597.2 L239.6,1598.0 L243.7,1598.8 L247.8,1599.4 L251.9,1600.0 L256.0,1600.5 L260.2,1600.9 L264.4,1601.3 L268.6,1601.7 L272.8,1602.0 L277.0,1602.3 L281.2,1602.6 L285.4,1602.8 L289.5,1603.1 L293.7,1603.3 L297.8,1603.5 L301.8,1603.8 L305.9,1604.0 L309.9,1604.3 L314.0,1604.5 L318.0,1604.8 L322.0,1605.0 L326.0,1605.3 L329.9,1605.5 L333.9,1605.8 L337.9,1606.0 L341.8,1606.3 L345.8,1606.5 L349.7,1606.7 L353.7,1607.0 L357.6,1607.2 L361.6,1607.5 L365.6,1607.7 L369.5,1608.0 L373.5,1608.2 L377.5,1608.4 L381.5,1608.7 L385.5,1608.9 L389.4,1609.2 L393.4,1609.4 L397.4,1609.6 L401.4,1609.8 L405.4,1610.1 L409.4,1610.3 L413.4,1610.5 L417.4,1610.7 L421.4,1610.9 L425.4,1611.1 L429.5,1611.3 L433.5,1611.5 L437.5,1611.7 L441.5,1611.9 L445.5,1612.1 L449.5,1612.3 L453.6,1612.5 L457.6,1612.7 L461.6,1612.8 L465.6,1613.0 L469.6,1613.1 L473.7,1613.3 L477.7,1613.4 L481.7,1613.6 L485.8,1613.7 L489.8,1613.8 L493.8,1613.9 L497.8,1614.0 L501.9,1614.1 L505.9,1614.2 L509.9,1614.3 L514.0,1614.4 L518.0,1614.5 L522.0,1614.5 L526.1,1614.6 L530.1,1614.6 L534.1,1614.7 L538.1,1614.7 L542.2,1614.7 L546.2,1614.7 L550.2,1614.7 L554.3,1614.7 L558.3,1614.7 L562.3,1614.6 L566.3,1614.6 L570.4,1614.5 L574.4,1614.5 L578.4,1614.4 L582.4,1614.3 L586.5,1614.2 L590.5,1614.1 L594.5,1614.0 L598.5,1613.8 L602.5,1613.7 L606.6,1613.5 L610.6,1613.4 L614.6,1613.2 L618.6,1613.0 L622.6,1612.8 L626.6,1612.5 L630.6,1612.3 L634.7,1612.1 L638.7,1611.8 L642.7,1611.5 L646.7,1611.2 L650.7,1610.9 L654.7,1610.6 L658.7,1610.2 L662.7,1609.9 L666.7,1609.5 L670.7,1609.1 L674.7,1608.7 L678.7,1608.3 L682.7,1607.9 L686.7,1607.4 L690.7,1607.0 L694.7,1606.5 L698.7,1606.0 L702.7,1605.5 L706.6,1604.9 L710.6,1604.4 L714.6,1603.8 L718.6,1603.2 L722.6,1602.6 L726.5,1602.0 L730.5,1601.3 L734.5,1600.7 L738.5,1600.0 L742.4,1599.3 L746.4,1598.6 L750.4,1597.8 L754.3,1597.1 L758.3,1596.3 L762.2,1595.5 L766.2,1594.7 L770.1,1593.8 L774.1,1593.0 L778.0,1592.1 L782.0,1591.2 L785.9,1590.3 L789.8,1589.3 L793.8,1588.3 L797.7,1587.3 L801.6,1586.2 L805.4,1585.2 L809.3,1584.0 L813.2,1582.9 L817.0,1581.7 L820.9,1580.5 L824.7,1579.3 L828.5,1578.0 L832.3,1576.6 L836.0,1575.3 L839.8,1573.8 L843.5,1572.4 L847.2,1570.9 L850.9,1569.3 L854.5,1567.8 L858.2,1566.1 L861.8,1564.4 L865.4,1562.7 L868.9,1560.9 L872.5,1559.1 L876.0,1557.2 L879.4,1555.2 L882.9,1553.2 L886.3,1551.2 L889.7,1549.0 L893.0,1546.9 L896.3,1544.6 L899.6,1542.3 L902.8,1540.0 L906.0,1537.6 L909.2,1535.1 L912.3,1532.5 L915.4,1529.9 L918.4,1527.2 L921.4,1524.4 L924.4,1521.6 L927.3,1518.7 L930.2,1515.7 L933.0,1512.7 L935.8,1509.6 L938.5,1506.4 L941.2,1503.1" stroke="#1d2440" stroke-opacity="0.85" stroke-width="0.9"/>
<path d="M200.1,1608.6 L204.0,1609.3 L208.0,1610.0 L212.0,1610.7 L216.0,1611.4 L220.0,1612.1 L224.0,1612.8 L227.9,1613.5 L231.9,1614.2 L235.9,1614.9 L239.9,1615.6 L243.9,1616.3 L247.9,1616.9 L251.9,1617.6 L255.9,1618.3 L259.9,1618.9 L263.9,1619.6 L267.9,1620.2 L271.9,1620.8 L275.9,1621.5 L279.9,1622.1 L283.9,1622.7 L287.9,1623.4 L291.9,1624.0 L295.9,1624.6 L299.9,1625.2 L303.9,1625.8 L307.9,1626.4 L311.9,1626.9 L315.9,1627.5 L319.9,1628.1 L323.9,1628.7 L327.9,1629.2 L331.9,1629.8 L335.9,1630.3 L340.0,1630.9 L344.0,1631.4 L348.0,1632.0 L352.0,1632.5 L356.0,1633.0 L360.0,1633.5 L364.0,1634.0 L368.1,1634.5 L372.1,1635.0 L376.1,1635.5 L380.1,1636.0 L384.1,1636.5 L388.1,1637.0 L392.2,1637.4 L396.2,1637.9 L400.2,1638.3 L404.2,1638.8 L408.3,1639.2 L412.3,1639.7 L416.3,1640.1 L420.3,1640.5 L424.3,1640.9 L428.4,1641.3 L432.4,1641.7 L436.4,1642.1 L440.5,1642.5 L444.5,1642.9 L448.5,1643.2 L452.5,1643.6 L456.6,1644.0 L460.6,1644.3 L464.6,1644.7 L468.7,1645.0 L472.7,1645.3 L476.7,1645.6 L480.8,1646.0 L484.8,1646.3 L488.8,1646.6 L492.9,1646.9 L496.9,1647.1 L500.9,1647.4 L505.0,1647.7 L509.0,1647.9 L513.0,1648.2 L517.1,1648.4 L521.1,1648.7 L525.1,1648.9 L529.2,1649.1 L533.2,1649.4 L537.3,1649.6 L541.3,1649.8 L545.3,1649.9 L549.4,1650.1 L553.4,1650.3 L557.5,1650.5 L561.5,1650.6 L565.5,1650.8 L569.6,1650.9 L573.6,1651.1 L577.7,1651.2 L581.7,1651.3 L585.7,1651.4 L589.8,1651.5 L593.8,1651.6 L597.9,1651.7 L601.9,1651.8 L606.0,1651.8 L610.0,1651.9 L614.0,1651.9 L618.1,1652.0 L622.1,1652.0 L626.2,1652.0 L630.2,1652.1 L634.3,1652.1 L638.3,1652.1 L642.3,1652.0 L646.4,1652.0 L650.4,1652.0 L654.5,1651.9 L658.5,1651.9 L662.6,1651.8 L666.6,1651.8 L670.7,1651.7 L674.7,1651.6 L678.8,1651.5 L682.8,1651.4 L686.8,1651.3 L690.9,1651.2 L694.9,1651.0 L699.0,1650.9 L703.0,1650.7 L707.1,1650.6 L711.1,1650.4 L715.2,1650.2 L719.2,1650.0 L723.3,1649.8 L727.3,1649.6 L731.3,1649.4 L735.4,1649.2 L739.4,1648.9 L743.5,1648.7 L747.5,1648.4 L751.6,1648.2 L755.6,1647.9 L759.7,1647.6 L763.7,1647.3 L767.8,1647.0 L771.8,1646.6 L775.8,1646.3 L779.9,1646.0 L783.9,1645.6 L788.0,1645.3 L792.0,1644.9 L796.1,1644.5" stroke="#1d2440" stroke-opacity="0.85" stroke-width="0.9"/>
<path d="M321.2,1650.6 L325.3,1651.1 L329.3,1651.7 L333.3,1652.2 L337.3,1652.7 L341.3,1653.3 L345.3,1653.8 L349.4,1654.3 L353.4,1654.9 L357.4,1655.4 L361.4,1655.9 L365.4,1656.5 L369.5,1657.0 L373.5,1657.6 L377.5,1658.1 L381.5,1658.7 L385.5,1659.2 L389.5,1659.7 L393.6,1660.3 L397.6,1660.8 L401.6,1661.4 L405.6,1661.9 L409.6,1662.5 L413.7,1663.0 L417.7,1663.5 L421.7,1664.1 L425.7,1664.6 L429.7,1665.1 L433.8,1665.7 L437.8,1666.2 L441.8,1666.7 L445.8,1667.3 L449.8,1667.8 L453.9,1668.3 L457.9,1668.8 L461.9,1669.3 L465.9,1669.9 L469.9,1670.4 L474.0,1670.9 L478.0,1671.4 L482.0,1671.9 L486.0,1672.4 L490.1,1672.9 L494.1,1673.3 L498.1,1673.8 L502.1,1674.3 L506.2,1674.8 L510.2,1675.2 L514.2,1675.7 L518.2,1676.2 L522.3,1676.6 L526.3,1677.1 L530.3,1677.5 L534.4,1677.9 L538.4,1678.3 L542.4,1678.8 L546.5,1679.2 L550.5,1679.6 L554.5,1680.0 L558.5,1680.4 L562.6,1680.8 L566.6,1681.1 L570.6,1681.5 L574.7,1681.9 L578.7,1682.2 L582.8,1682.6 L586.8,1682.9 L590.8,1683.3 L594.9,1683.6 L598.9,1683.9 L602.9,1684.2 L607.0,1684.5 L611.0,1684.8 L615.1,1685.1 L619.1,1685.3 L623.2,1685.6 L627.2,1685.8 L631.2,1686.1 L635.3,1686.3 L639.3,1686.5 L643.4,1686.7 L647.4,1686.9 L651.5,1687.1 L655.5,1687.3 L659.6,1687.4 L663.6,1687.6 L667.7,1687.7 L671.7,1687.8 L675.8,1688.0 L679.8,1688.1 L683.9,1688.2 L688.0,1688.2 L692.0,1688.3 L696.1,1688.3 L700.1,1688.4 L704.2,1688.4 L708.3,1688.4 L712.3,1688.4 L716.4,1688.4 L720.5,1688.4 L724.5,1688.3 L728.6,1688.3 L732.7,1688.2 L736.7,1688.1 L740.8,1688.0 L744.9,1687.9" stroke="#1d2440" stroke-opacity="0.85" stroke-width="0.9"/>
<path d="M459.5,1691.5 L463.5,1692.2 L467.6,1692.9 L471.6,1693.6 L475.7,1694.3 L479.7,1695.0 L483.8,1695.7 L487.8,1696.3 L491.9,1697.0 L496.0,1697.6 L500.0,1698.2 L504.1,1698.8 L508.1,1699.4 L512.2,1700.0 L516.3,1700.5 L520.3,1701.1 L524.4,1701.6 L528.5,1702.2 L532.6,1702.7 L536.6,1703.2 L540.7,1703.7 L544.8,1704.2 L548.9,1704.7 L552.9,1705.1 L557.0,1705.6 L561.1,1706.1 L565.2,1706.5 L569.3,1706.9 L573.3,1707.4 L577.4,1707.8 L581.5,1708.2 L585.6,1708.6 L589.7,1709.0 L593.8,1709.4 L597.9,1709.8 L602.0,1710.1 L606.0,1710.5 L610.1,1710.9 L614.2,1711.2 L618.3,1711.6 L622.4,1711.9 L626.5,1712.3 L630.6,1712.6 L634.7,1712.9 L638.8,1713.3 L642.9,1713.6 L647.0,1713.9 L651.1,1714.2 L655.2,1714.5 L659.3,1714.8 L663.4,1715.1 L667.4,1715.4 L671.5,1715.7 L675.6,1716.0 L679.7,1716.3 L683.8,1716.6 L687.9,1716.8 L692.0,1717.1 L696.1,1717.4 L700.2,1717.7 L704.3,1718.0 L708.4,1718.2" stroke="#1d2440" stroke-opacity="0.85" stroke-width="0.9"/>
<path d="M598.3,1732.3 L602.5,1732.9 L606.6,1733.5 L610.8,1734.0 L615.0,1734.5 L619.1,1735.0 L623.3,1735.5 L627.5,1735.9 L631.7,1736.4 L635.9,1736.8 L640.1,1737.1 L644.2,1737.5 L648.4,1737.8 L652.6,1738.1 L656.8,1738.4 L661.0,1738.7 L665.2,1738.9 L669.4,1739.2 L673.6,1739.4 L677.8,1739.6 L682.0,1739.8" stroke="#1d2440" stroke-opacity="0.85" stroke-width="0.9"/>
</g>
<path d="M123.8,1376.3 L474.0,1249.8" stroke="#2a3340" stroke-opacity="0.8" stroke-width="0.9" fill="none"/>
<path d="M940.8,1503.3 L938.2,1506.4 L935.5,1509.5 L932.8,1512.6 L930.1,1515.6 L927.4,1518.7 L924.7,1521.7 L922.0,1524.8 L919.2,1527.8 L916.5,1530.8 L913.7,1533.8 L910.9,1536.8 L908.1,1539.7 L905.3,1542.7 L902.5,1545.6 L899.7,1548.6 L896.8,1551.5 L894.0,1554.4 L891.1,1557.3 L888.3,1560.2 L885.4,1563.1 L882.5,1565.9 L879.6,1568.8 L876.7,1571.6 L873.8,1574.5 L870.9,1577.3 L867.9,1580.1 L865.0,1582.9 L862.1,1585.7 L859.1,1588.5 L856.1,1591.3 L853.2,1594.1 L850.2,1596.9 L847.2,1599.6 L844.2,1602.4 L841.2,1605.1 L838.2,1607.9 L835.2,1610.6 L832.2,1613.3 L829.1,1616.0 L826.1,1618.7 L823.1,1621.5 L820.0,1624.2 L817.0,1626.8 L813.9,1629.5 L810.8,1632.2 L807.8,1634.9 L804.7,1637.6 L801.6,1640.2 L798.6,1642.9 L795.5,1645.6 L792.4,1648.2 L789.3,1650.9 L786.2,1653.5 L783.1,1656.2 L780.0,1658.8 L776.9,1661.4 L773.8,1664.1 L770.7,1666.7 L767.6,1669.3 L764.5,1671.9 L761.4,1674.6 L758.2,1677.2 L755.1,1679.8 L752.0,1682.4 L748.9,1685.0 L745.8,1687.7 L742.7,1690.3 L739.5,1692.9 L736.4,1695.5 L733.3,1698.1 L730.2,1700.7 L727.1,1703.3 L723.9,1705.9 L720.8,1708.6 L717.7,1711.2 L714.6,1713.8 L711.5,1716.4 L708.4,1719.0 L705.2,1721.6 L702.1,1724.2 L699.0,1726.9 L695.9,1729.5 L692.8,1732.1 L689.7,1734.7 L686.6,1737.4 L683.5,1740.0 L680.4,1742.6 L677.3,1745.3 L674.3,1747.9 L671.2,1750.5" stroke="#2a2a40" stroke-opacity="0.75" stroke-width="0.9" fill="none"/>
<path d="M473.0,1250.1 L475.4,1253.4 L477.9,1256.7 L480.4,1260.0 L482.9,1263.3 L485.5,1266.5 L488.1,1269.7 L490.7,1272.9 L493.3,1276.0 L496.0,1279.1 L498.7,1282.2 L501.4,1285.3 L504.1,1288.3 L506.9,1291.3 L509.6,1294.3 L512.4,1297.2 L515.3,1300.1 L518.1,1303.0 L521.0,1305.9 L523.9,1308.7 L526.8,1311.5 L529.7,1314.3 L532.7,1317.1 L535.6,1319.8 L538.6,1322.5 L541.7,1325.2 L544.7,1327.8 L547.8,1330.4 L550.8,1333.0 L553.9,1335.6 L557.0,1338.2 L560.2,1340.7 L563.3,1343.2 L566.5,1345.7 L569.7,1348.1 L572.9,1350.6 L576.1,1353.0 L579.4,1355.4 L582.6,1357.7 L585.9,1360.1 L589.2,1362.4 L592.5,1364.7 L595.9,1366.9 L599.2,1369.2 L602.6,1371.4 L606.0,1373.6 L609.4,1375.8 L612.8,1378.0 L616.2,1380.1 L619.6,1382.2 L623.1,1384.3 L626.6,1386.4 L630.0,1388.4 L633.5,1390.5 L637.0,1392.5 L640.6,1394.5 L644.1,1396.4 L647.7,1398.4 L651.2,1400.3 L654.8,1402.2 L658.4,1404.1 L662.0,1406.0 L665.6,1407.9 L669.2,1409.7 L672.8,1411.5 L676.5,1413.3 L680.1,1415.1 L683.8,1416.9 L687.5,1418.6 L691.2,1420.4 L694.9,1422.1 L698.6,1423.8 L702.3,1425.4 L706.0,1427.1 L709.7,1428.7 L713.5,1430.4 L717.2,1432.0 L721.0,1433.6 L724.7,1435.2 L728.5,1436.7 L732.3,1438.3 L736.1,1439.8 L739.9,1441.3 L743.7,1442.8 L747.5,1444.3 L751.3,1445.8 L755.1,1447.3 L758.9,1448.7 L762.8,1450.1 L766.6,1451.5 L770.4,1453.0 L774.3,1454.3 L778.1,1455.7 L782.0,1457.1 L785.8,1458.4 L789.7,1459.8 L793.6,1461.1 L797.4,1462.4 L801.3,1463.7 L805.2,1465.0 L809.1,1466.3 L812.9,1467.5 L816.8,1468.8 L820.7,1470.0 L824.6,1471.3 L828.5,1472.5 L832.3,1473.7 L836.2,1474.9 L840.1,1476.1 L844.0,1477.3 L847.9,1478.4 L851.8,1479.6 L855.7,1480.7 L859.5,1481.9 L863.4,1483.0 L867.3,1484.1 L871.2,1485.2 L875.1,1486.4 L879.0,1487.4 L882.8,1488.5 L886.7,1489.6 L890.6,1490.7 L894.4,1491.8 L898.3,1492.8 L902.2,1493.9 L906.0,1494.9 L909.9,1495.9 L913.7,1497.0 L917.6,1498.0 L921.4,1499.0 L925.3,1500.0 L929.1,1501.0 L932.9,1502.0 L936.7,1503.0 L940.6,1504.0" stroke="#5E81B5" stroke-width="3.5" fill="none" stroke-linecap="butt"/>
<path d="M373.6,1286.6 L375.1,1290.3 L376.5,1294.0 L377.9,1297.7 L379.3,1301.4 L380.8,1305.2 L382.2,1308.9 L383.7,1312.7 L385.1,1316.4 L386.6,1320.2 L388.1,1324.0 L389.6,1327.8 L391.2,1331.5 L392.8,1335.3 L394.3,1339.1 L396.0,1342.8 L397.6,1346.6 L399.3,1350.3 L400.9,1354.1 L402.7,1357.8 L404.4,1361.5 L406.2,1365.2 L408.1,1368.8 L409.9,1372.5 L411.8,1376.1 L413.8,1379.7 L415.8,1383.2 L417.8,1386.7 L419.9,1390.2 L422.0,1393.7 L424.2,1397.1 L426.4,1400.5 L428.7,1403.8 L431.0,1407.1 L433.4,1410.4 L435.8,1413.6 L438.3,1416.8 L440.9,1419.9 L443.5,1423.0 L446.1,1426.0 L448.8,1429.0 L451.5,1431.9 L454.3,1434.8 L457.1,1437.7 L460.0,1440.5 L462.9,1443.2 L465.9,1445.9 L468.9,1448.6 L471.9,1451.2 L475.0,1453.8 L478.1,1456.3 L481.3,1458.7 L484.5,1461.1 L487.7,1463.5 L491.0,1465.8 L494.3,1468.0 L497.6,1470.2 L501.0,1472.4 L504.4,1474.5 L507.8,1476.5 L511.3,1478.5 L514.8,1480.5 L518.3,1482.4 L521.9,1484.2 L525.4,1486.1 L529.0,1487.8 L532.7,1489.6 L536.3,1491.3 L540.0,1493.0 L543.7,1494.6 L547.4,1496.2 L551.1,1497.7 L554.9,1499.2 L558.7,1500.7 L562.5,1502.2 L566.3,1503.6 L570.1,1505.0 L574.0,1506.4 L577.8,1507.8 L581.7,1509.1 L585.6,1510.4 L589.4,1511.7 L593.3,1512.9 L597.3,1514.2 L601.2,1515.4 L605.1,1516.6 L609.0,1517.8 L613.0,1519.0 L616.9,1520.2 L620.9,1521.3 L624.8,1522.5 L628.7,1523.6 L632.7,1524.7 L636.6,1525.8 L640.6,1526.9 L644.5,1528.1 L648.5,1529.2 L652.4,1530.3 L656.4,1531.4 L660.3,1532.5 L664.2,1533.6 L668.1,1534.7 L672.0,1535.8 L675.9,1536.9 L679.8,1538.0 L683.7,1539.1 L687.6,1540.3 L691.5,1541.4 L695.4,1542.5 L699.3,1543.6 L703.1,1544.7 L707.0,1545.8 L710.9,1546.9 L714.7,1548.0 L718.6,1549.1 L722.5,1550.2 L726.3,1551.3 L730.2,1552.4 L734.1,1553.5 L737.9,1554.5 L741.8,1555.6 L745.7,1556.7 L749.5,1557.7 L753.4,1558.8 L757.3,1559.9 L761.2,1560.9 L765.0,1561.9 L768.9,1563.0 L772.8,1564.0 L776.7,1565.0 L780.6,1566.0 L784.5,1567.0 L788.4,1568.0 L792.3,1569.0 L796.2,1569.9 L800.1,1570.9 L804.0,1571.8 L808.0,1572.8 L811.9,1573.7 L815.8,1574.6 L819.8,1575.5 L823.8,1576.4 L827.7,1577.3 L831.7,1578.2 L835.7,1579.0 L839.7,1579.8 L843.7,1580.7 L847.7,1581.5 L851.7,1582.3 L855.8,1583.1 L859.8,1583.8 L863.9,1584.6" stroke="#8FB032" stroke-width="3.5" fill="none"/>
<path d="M258.2,1329.5 L259.4,1333.1 L260.4,1336.8 L261.4,1340.6 L262.4,1344.4 L263.3,1348.2 L264.2,1352.0 L265.0,1355.9 L265.8,1359.8 L266.6,1363.7 L267.4,1367.7 L268.1,1371.7 L268.8,1375.6 L269.5,1379.6 L270.2,1383.7 L270.9,1387.7 L271.6,1391.7 L272.3,1395.8 L272.9,1399.8 L273.6,1403.9 L274.4,1408.0 L275.1,1412.0 L275.9,1416.1 L276.6,1420.1 L277.4,1424.2 L278.3,1428.2 L279.2,1432.2 L280.1,1436.3 L281.1,1440.3 L282.1,1444.2 L283.2,1448.2 L284.3,1452.1 L285.5,1456.1 L286.8,1460.0 L288.1,1463.8 L289.5,1467.7 L291.0,1471.5 L292.6,1475.2 L294.2,1478.9 L295.9,1482.6 L297.7,1486.2 L299.6,1489.8 L301.6,1493.2 L303.6,1496.7 L305.7,1500.0 L308.0,1503.3 L310.3,1506.5 L312.7,1509.6 L315.2,1512.6 L317.8,1515.5 L320.5,1518.3 L323.3,1521.0 L326.2,1523.6 L329.1,1526.2 L332.2,1528.6 L335.3,1531.0 L338.5,1533.3 L341.7,1535.6 L345.0,1537.7 L348.4,1539.8 L351.9,1541.8 L355.3,1543.7 L358.9,1545.6 L362.5,1547.4 L366.1,1549.2 L369.8,1550.9 L373.5,1552.5 L377.3,1554.1 L381.1,1555.7 L384.9,1557.1 L388.7,1558.6 L392.6,1560.0 L396.4,1561.4 L400.3,1562.7 L404.2,1564.0 L408.1,1565.2 L412.0,1566.5 L415.9,1567.7 L419.8,1568.9 L423.7,1570.0 L427.6,1571.1 L431.5,1572.2 L435.4,1573.3 L439.3,1574.4 L443.2,1575.5 L447.1,1576.5 L451.0,1577.5 L454.9,1578.6 L458.9,1579.6 L462.8,1580.6 L466.7,1581.6 L470.6,1582.6 L474.5,1583.6 L478.4,1584.6 L482.3,1585.6 L486.2,1586.6 L490.1,1587.6 L494.0,1588.7 L497.9,1589.7 L501.8,1590.7 L505.7,1591.7 L509.6,1592.8 L513.5,1593.8 L517.4,1594.8 L521.3,1595.9 L525.2,1596.9 L529.1,1597.9 L532.9,1599.0 L536.8,1600.0 L540.7,1601.1 L544.6,1602.1 L548.5,1603.2 L552.4,1604.2 L556.3,1605.3 L560.2,1606.3 L564.1,1607.4 L568.0,1608.4 L571.9,1609.5 L575.7,1610.6 L579.6,1611.6 L583.5,1612.7 L587.4,1613.7 L591.3,1614.8 L595.2,1615.9 L599.1,1616.9 L603.0,1618.0 L606.9,1619.1 L610.8,1620.1 L614.6,1621.2 L618.5,1622.3 L622.4,1623.3 L626.3,1624.4 L630.2,1625.4 L634.1,1626.5 L638.0,1627.6 L641.9,1628.6 L645.8,1629.7 L649.7,1630.7 L653.6,1631.8 L657.5,1632.8 L661.3,1633.9 L665.2,1634.9 L669.1,1636.0 L673.0,1637.0 L676.9,1638.1 L680.8,1639.1 L684.7,1640.2 L688.6,1641.2 L692.5,1642.3 L696.4,1643.3 L700.3,1644.3 L704.2,1645.3 L708.1,1646.4 L712.0,1647.4 L715.9,1648.4 L719.8,1649.4 L723.8,1650.5 L727.7,1651.5 L731.6,1652.5 L735.5,1653.5 L739.4,1654.5 L743.3,1655.5 L747.2,1656.5 L751.1,1657.5 L755.1,1658.5 L759.0,1659.4 L762.9,1660.4 L766.8,1661.4 L770.7,1662.4 L774.7,1663.3" stroke="#E19C24" stroke-width="3.5" fill="none"/>
<path d="M123.6,1376.3 L124.4,1380.4 L125.1,1384.5 L125.8,1388.5 L126.5,1392.5 L127.2,1396.5 L127.8,1400.5 L128.4,1404.5 L129.0,1408.5 L129.6,1412.4 L130.1,1416.4 L130.6,1420.3 L131.2,1424.2 L131.7,1428.1 L132.2,1432.1 L132.6,1436.0 L133.1,1439.9 L133.6,1443.8 L134.1,1447.7 L134.5,1451.6 L135.0,1455.6 L135.5,1459.5 L135.9,1463.4 L136.4,1467.4 L136.9,1471.3 L137.3,1475.3 L137.8,1479.2 L138.3,1483.2 L138.8,1487.2 L139.4,1491.2 L139.9,1495.3 L140.4,1499.3 L141.0,1503.4 L141.6,1507.5 L142.2,1511.6 L142.9,1515.7 L143.5,1519.8 L144.2,1524.0 L144.9,1528.2 L145.7,1532.4 L146.5,1536.5 L147.4,1540.7 L148.4,1544.8 L149.5,1548.8 L150.6,1552.8 L151.9,1556.7 L153.3,1560.5 L154.8,1564.2 L156.4,1567.9 L158.2,1571.3 L160.1,1574.7 L162.2,1577.9 L164.4,1581.0 L166.9,1583.9 L169.4,1586.7 L172.1,1589.3 L175.0,1591.9 L177.9,1594.3 L181.0,1596.6 L184.2,1598.8 L187.4,1600.9 L190.8,1602.9 L194.3,1604.9 L197.8,1606.7 L201.4,1608.5 L205.0,1610.3 L208.7,1611.9 L212.5,1613.5 L216.3,1615.1 L220.1,1616.7 L223.9,1618.2 L227.7,1619.6 L231.5,1621.1 L235.4,1622.6 L239.2,1624.0 L243.0,1625.4 L246.9,1626.8 L250.7,1628.2 L254.6,1629.6 L258.4,1630.9 L262.2,1632.3 L266.1,1633.6 L269.9,1634.9 L273.8,1636.2 L277.6,1637.5 L281.4,1638.8 L285.3,1640.0 L289.1,1641.3 L293.0,1642.5 L296.8,1643.8 L300.7,1645.0 L304.5,1646.2 L308.3,1647.4 L312.2,1648.6 L316.0,1649.8 L319.9,1651.0 L323.7,1652.2 L327.6,1653.3 L331.4,1654.5 L335.3,1655.6 L339.1,1656.8 L343.0,1657.9 L346.8,1659.1 L350.7,1660.2 L354.5,1661.3 L358.4,1662.4 L362.2,1663.5 L366.1,1664.7 L369.9,1665.8 L373.8,1666.9 L377.7,1668.0 L381.5,1669.1 L385.4,1670.2 L389.2,1671.3 L393.1,1672.4 L396.9,1673.5 L400.8,1674.6 L404.6,1675.7 L408.5,1676.8 L412.4,1677.9 L416.2,1679.0 L420.1,1680.1 L423.9,1681.2 L427.8,1682.3 L431.6,1683.4 L435.5,1684.5 L439.4,1685.7 L443.2,1686.8 L447.1,1687.9 L450.9,1689.1 L454.8,1690.2 L458.7,1691.3 L462.5,1692.5 L466.4,1693.6 L470.2,1694.8 L474.1,1696.0 L478.0,1697.1 L481.8,1698.3 L485.7,1699.4 L489.5,1700.6 L493.4,1701.8 L497.3,1702.9 L501.1,1704.1 L505.0,1705.3 L508.9,1706.5 L512.7,1707.6 L516.6,1708.8 L520.5,1710.0 L524.3,1711.1 L528.2,1712.3 L532.1,1713.4 L535.9,1714.6 L539.8,1715.8 L543.7,1716.9 L547.5,1718.1 L551.4,1719.2 L555.3,1720.4 L559.2,1721.5 L563.0,1722.6 L566.9,1723.8 L570.8,1724.9 L574.7,1726.0 L578.6,1727.1 L582.4,1728.2 L586.3,1729.3 L590.2,1730.4 L594.1,1731.5 L598.0,1732.6 L601.9,1733.6 L605.7,1734.7 L609.6,1735.7 L613.5,1736.8 L617.4,1737.8 L621.3,1738.8 L625.2,1739.9 L629.1,1740.9 L633.0,1741.9 L636.9,1742.8 L640.8,1743.8 L644.7,1744.8 L648.6,1745.7 L652.5,1746.6 L656.4,1747.6 L660.3,1748.5 L664.2,1749.4 L668.1,1750.3 L672.0,1751.1" stroke="#EB6235" stroke-width="3.5" fill="none"/>
<path d="M465.8,1269.7 L464.9,1273.6 L464.0,1277.4 L463.2,1281.3 L462.3,1285.2 L461.4,1289.1 L460.6,1293.0 L459.7,1296.9 L458.8,1300.8 L458.0,1304.8 L457.2,1308.7 L456.3,1312.6 L455.5,1316.6 L454.7,1320.5 L453.9,1324.5 L453.1,1328.4 L452.3,1332.4 L451.5,1336.4 L450.7,1340.3 L450.0,1344.3 L449.3,1348.3 L448.6,1352.3 L447.9,1356.3 L447.2,1360.3 L446.5,1364.3 L445.9,1368.3 L445.3,1372.3 L444.7,1376.4 L444.1,1380.4 L443.6,1384.4 L443.0,1388.4 L442.5,1392.5 L442.1,1396.5 L441.6,1400.6 L441.2,1404.6 L440.8,1408.7 L440.5,1412.7 L440.1,1416.8 L439.8,1420.8 L439.6,1424.9 L439.4,1429.0 L439.2,1433.0 L439.0,1437.1 L438.9,1441.2 L438.8,1445.3 L438.8,1449.4 L438.8,1453.4 L438.8,1457.5 L438.9,1461.6 L439.0,1465.7 L439.2,1469.8 L439.4,1473.9 L439.7,1477.9 L440.1,1482.0 L440.4,1486.0 L440.9,1490.0 L441.4,1494.0 L442.0,1498.0 L442.7,1502.0 L443.4,1506.0 L444.2,1509.9 L445.0,1513.8 L446.0,1517.7 L447.0,1521.5 L448.1,1525.3 L449.3,1529.1 L450.5,1532.9 L451.9,1536.6 L453.3,1540.2 L454.9,1543.9 L456.5,1547.4 L458.3,1551.0 L460.1,1554.5 L462.0,1557.9 L464.0,1561.3 L466.1,1564.7 L468.3,1568.0 L470.6,1571.3 L472.9,1574.5 L475.3,1577.7 L477.8,1580.9 L480.3,1584.0 L483.0,1587.1 L485.6,1590.1 L488.4,1593.1 L491.2,1596.1 L494.0,1599.0 L496.9,1601.9 L499.8,1604.7 L502.8,1607.6 L505.8,1610.3 L508.9,1613.1 L512.0,1615.8 L515.1,1618.5 L518.2,1621.1 L521.4,1623.7 L524.6,1626.3 L527.8,1628.8 L531.0,1631.4 L534.3,1633.8 L537.5,1636.3 L540.8,1638.7 L544.1,1641.1 L547.4,1643.5 L550.8,1645.9 L554.1,1648.2 L557.5,1650.5 L560.8,1652.8 L564.2,1655.1 L567.6,1657.3 L571.0,1659.5 L574.4,1661.7 L577.8,1663.9 L581.2,1666.1 L584.7,1668.2 L588.1,1670.4 L591.5,1672.5 L595.0,1674.6 L598.4,1676.7 L601.9,1678.8 L605.3,1680.9 L608.8,1682.9 L612.2,1685.0 L615.7,1687.0 L619.2,1689.0 L622.6,1691.0 L626.1,1693.0 L629.6,1695.0 L633.1,1697.0 L636.6,1699.0 L640.1,1700.9 L643.6,1702.9 L647.1,1704.9 L650.6,1706.8 L654.1,1708.7 L657.7,1710.7 L661.2,1712.6 L664.8,1714.5 L668.3,1716.5 L671.9,1718.4 L675.4,1720.3 L679.0,1722.2 L682.6,1724.1 L686.2,1726.0 L689.8,1727.9 L693.4,1729.8 L697.0,1731.8" stroke="#000" stroke-width="3.3" fill="none" stroke-dasharray="9.3,8.3"/>
<path d="M100.4,1368.9 L118.6,1610.8 M100.8,1373.9 h4.2 M102.6,1397.8 h4.2 M104.4,1422.6 h8.3 M106.2,1445.7 h4.2 M108.0,1469.6 h4.2 M109.8,1493.6 h4.2 M111.5,1517.0 h8.3 M113.3,1539.8 h4.2 M114.9,1562.1 h4.2 M116.6,1584.4 h4.2 M118.2,1605.9 h8.3 M100.4,1368.9 L471.8,1236.3 M113.1,1364.4 v8.0 M141.2,1354.3 v4.5 M168.6,1344.6 v4.5 M195.7,1334.9 v4.5 M222.1,1325.4 v4.5 M247.5,1316.4 v8.0 M271.5,1307.8 v4.5 M295.4,1299.3 v4.5 M318.9,1290.9 v4.5 M341.7,1282.7 v4.5 M363.5,1275.0 v8.0 M384.2,1267.6 v4.5 M405.0,1260.1 v4.5 M425.1,1253.0 v4.5 M444.6,1246.0 v4.5 M464.1,1239.0 v8.0 M118.6,1610.8 L675.9,1770.4 M129.5,1613.9 l0.3,-9.5 M152.0,1620.4 l0.3,-5.0 M175.2,1627.0 l0.3,-5.0 M199.0,1633.8 l0.3,-5.0 M222.9,1640.7 l0.3,-5.0 M247.1,1647.6 l0.3,-9.5 M271.8,1654.7 l0.3,-5.0 M296.6,1661.8 l0.3,-5.0 M322.0,1669.0 l0.3,-5.0 M347.7,1676.4 l0.3,-5.0 M374.0,1683.9 l0.3,-9.5 M401.5,1691.8 l0.3,-5.0 M428.3,1699.5 l0.3,-5.0 M455.7,1707.3 l0.3,-5.0 M483.4,1715.3 l0.3,-5.0 M511.8,1723.4 l0.3,-9.5 M540.5,1731.6 l0.3,-5.0 M570.3,1740.2 l0.3,-5.0 M600.0,1748.7 l0.3,-5.0 M630.4,1757.4 l0.3,-5.0 M662.1,1766.4 l0.3,-9.5" stroke="#767676" stroke-width="1.4" fill="none"/>
<text x="63.4" y="1425.0" font-family="Liberation Sans, sans-serif" font-size="20.7" fill="#666">0.4</text>
<text x="70.5" y="1518.0" font-family="Liberation Sans, sans-serif" font-size="20.7" fill="#666">0.2</text>
<text x="77.2" y="1607.2" font-family="Liberation Sans, sans-serif" font-size="20.7" fill="#666">0.0</text>
<text x="98.8" y="1348.0" font-family="Liberation Sans, sans-serif" font-size="20.7" fill="#666">1.5</text>
<text x="232.3" y="1301.5" font-family="Liberation Sans, sans-serif" font-size="20.7" fill="#666">1.0</text>
<text x="347.0" y="1259.8" font-family="Liberation Sans, sans-serif" font-size="20.7" fill="#666">0.5</text>
<text x="449.0" y="1224.3" font-family="Liberation Sans, sans-serif" font-size="20.7" fill="#666">0.0</text>
<text x="130.3" y="1646.0" text-anchor="middle" font-family="Liberation Sans, sans-serif" font-size="20.7" fill="#666">0</text>
<text x="248.6" y="1679.3" text-anchor="middle" font-family="Liberation Sans, sans-serif" font-size="20.7" fill="#666">1</text>
<text x="374.9" y="1715.6" text-anchor="middle" font-family="Liberation Sans, sans-serif" font-size="20.7" fill="#666">2</text>
<text x="512.5" y="1754.6" text-anchor="middle" font-family="Liberation Sans, sans-serif" font-size="20.7" fill="#666">3</text>
<text x="660.4" y="1796.8" text-anchor="middle" font-family="Liberation Sans, sans-serif" font-size="20.7" fill="#666">4</text>
<text x="236.5" y="1258.8" font-family="Liberation Serif, serif" font-size="38" font-style="italic" font-weight="bold">s</text>
<text x="-1" y="1482.8" font-family="Liberation Serif, serif" font-size="36" font-style="italic">V̄</text>
<text x="19.5" y="1486.6" font-family="Liberation Serif, serif" font-size="25.5" font-style="italic" letter-spacing="2.6">post</text>
<text x="303" y="1754" font-family="Liberation Serif, serif" font-size="38">|</text>
<text x="311.5" y="1754" font-family="Liberation Serif, serif" font-size="38" font-style="italic">α</text>
<text x="338" y="1754" font-family="Liberation Serif, serif" font-size="38">|</text>
<text x="347.2" y="1740.2" font-family="Liberation Serif, serif" font-size="21.5" font-weight="bold">2</text>
<text x="474" y="1839" text-anchor="middle" font-family="Liberation Serif, serif" font-size="35">(c)</text>
</g>
</svg>
</body></html>
